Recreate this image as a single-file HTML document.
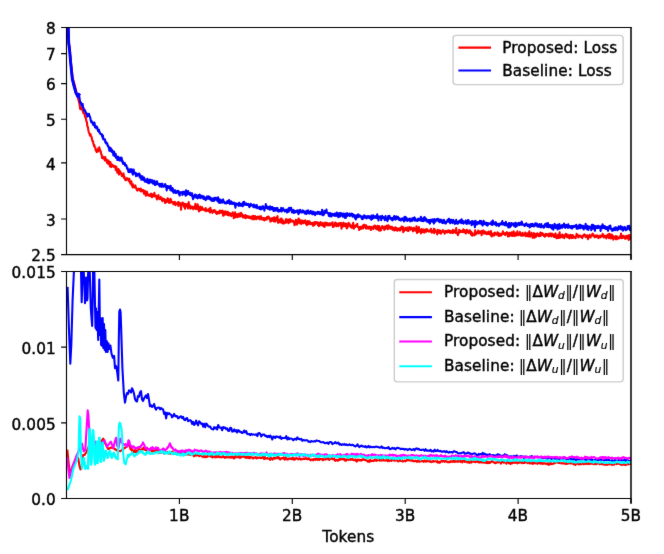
<!DOCTYPE html>
<html><head><meta charset="utf-8"><title>Loss and update-ratio curves</title>
<style>html,body{margin:0;padding:0;background:#fff}body{width:664px;height:554px;overflow:hidden}svg{display:block}</style></head><body>
<svg width="664" height="554" viewBox="0 0 664 554">
<defs><clipPath id="ct"><rect x="66.50" y="27.50" width="564.50" height="227.10"/></clipPath><clipPath id="cb"><rect x="66.50" y="271.50" width="564.50" height="227.00"/></clipPath></defs>
<filter id="sf" x="0" y="0" width="664" height="554" filterUnits="userSpaceOnUse" color-interpolation-filters="sRGB"><feConvolveMatrix order="3" kernelMatrix="1 4 1 4 60 4 1 4 1" edgeMode="duplicate"/></filter>
<g filter="url(#sf)">
<rect width="664" height="554" fill="#fff"/>
<style>text{font-family:'DejaVu Sans',sans-serif;font-size:15.278px;fill:#000;letter-spacing:0.10px;stroke:#000;stroke-width:0.40px} .o{font-style:oblique} .s{font-size:10.694px;stroke-width:0.2px} .n{stroke:none}</style>
<g clip-path="url(#ct)" fill="none" stroke-width="2.083" stroke-linejoin="round" stroke-linecap="square">
<polyline stroke="#ff0000" points="68,5 68.4,27.7 69,43.1 69.9,50.3 70.8,61.1 71.8,70.2 72.8,78.5 74.3,83.5 76.2,91 77.8,97 79.6,104.5 80,108.1 80.3,109.2 80.7,109.1 81,107.7 81.3,107.8 81.7,108.1 82,109.6 82.3,109.7 82.7,111.1 83,109.6 83.3,113.1 83.7,112.3 84,113.5 84.3,113.5 84.7,114.5 85,116.3 85.3,117.6 85.7,117.8 86,119 86.3,121.1 86.7,121.5 87,122.7 87.3,126.1 87.7,126.9 88,127.4 88.3,129.9 88.7,131.8 89,132.7 89.3,133 89.7,134.6 90,135.6 90.3,134.7 90.7,134.4 91,135.7 91.3,136.8 91.7,137.1 92,139.1 92.3,140.8 92.7,140.8 93,141.2 93.3,143.3 93.7,144.3 94,146.2 94.3,144.9 94.7,146.6 95,147.5 95.3,147.6 95.7,150.3 96,150.9 96.3,149.8 96.7,152.2 97,151.8 97.3,151.6 97.7,151.3 98,151.4 98.3,148.4 98.7,150 99,149.6 99.3,147.2 99.7,150 100,149.9 100.3,151.6 100.7,151 101,152.9 101.3,154.7 101.7,154.8 102,157.9 102.3,157.5 102.7,158.1 103,156.8 103.3,158.5 103.7,158 104,157.2 104.3,158.4 104.7,159.6 105,160.6 105.3,157.1 105.7,160.4 106,160.4 106.3,160.2 106.7,159.6 107,162.8 107.3,160.2 107.7,162.6 108,163.8 108.4,160.5 108.7,162.3 109,161.4 109.4,163.5 109.7,165.4 110,166.4 110.4,162 110.7,163.8 111,165.7 111.4,167.1 111.7,165.9 112,164.6 112.4,166.1 112.7,165.9 113,165.8 113.4,165.3 113.7,166.8 114,166.9 114.4,166.7 114.7,167 115,166.1 115.4,167.4 115.7,169.8 116,168.2 116.4,166.8 116.7,170.9 117,170.3 117.4,172.8 117.7,170.5 118,170.1 118.4,169 118.7,172.7 119,174.5 119.4,170.4 119.7,171 120,173 120.4,171.7 120.7,173 121,173.3 121.4,174.4 121.7,175.9 122,174.8 122.4,176.2 122.7,174.7 123,176.1 123.4,173.3 123.7,174.6 124,177.9 124.4,176.6 124.7,178.4 125,178.8 125.4,180.1 125.7,179.7 126,180.1 126.4,178.8 126.7,178.2 127,178.4 127.4,179.1 127.7,178.5 128,179.5 128.4,180.2 128.7,180.8 129,180.4 129.4,178.8 129.7,181.8 130,182.5 130.4,183.8 130.7,183.1 131,181.5 131.4,181.4 131.7,185.3 132,184.2 132.4,186.3 132.7,187.5 133,184.3 133.4,186.4 133.7,186.8 134,187.3 134.4,187.4 134.7,187 135,187.2 135.4,185.4 135.7,187.6 136,187.5 136.4,189.1 136.7,188.8 137,190.4 137.4,190.6 137.7,189.8 138,189.6 138.4,189.3 138.7,188.7 139,189.2 139.4,189 139.7,190.4 140,190 140.4,190.9 140.7,188.5 141,191.5 141.4,189.4 141.7,189.6 142,190.4 142.4,190 142.7,191.4 143,190.5 143.4,190.1 143.7,190.7 144,193.8 144.4,192.4 144.7,191.1 145,193 145.4,191.2 145.7,195.8 146,191.7 146.4,194.3 146.7,194.4 147,191.9 147.4,194.2 147.7,195.3 148,194.8 148.4,194.6 148.7,195.7 149,194.9 149.4,195.3 149.7,194.9 150,195.9 150.4,194 150.7,196.2 151,194.5 151.4,193.7 151.7,195.6 152,197.3 152.4,196.4 152.7,194.6 153,196.2 153.4,194.8 153.7,195.3 154,195.7 154.4,192.8 154.7,196.4 155,195.3 155.4,196.1 155.7,195.5 156,195.6 156.4,196.3 156.7,198.5 157,199.5 157.4,197.2 157.7,198.6 158,197 158.4,195.1 158.7,198 159,198.6 159.4,197.6 159.7,198.7 160,199.2 160.4,197.5 160.7,196.9 161,198.6 161.4,198.8 161.7,198.6 162,200.3 162.4,201.2 162.7,198.4 163.1,200 163.4,200.4 163.7,200.2 164.1,200.7 164.4,199.1 164.7,201 165.1,203.1 165.4,201.9 165.7,200.2 166.1,201.6 166.4,202.1 166.7,200.6 167.1,199.2 167.4,201.8 167.7,198.2 168.1,200.6 168.4,200.2 168.7,199.2 169.1,202.9 169.4,202.3 169.7,200.5 170.1,202.7 170.4,201 170.7,198.9 171.1,200.4 171.4,201.7 171.7,202.3 172.1,201.8 172.4,201.9 172.7,202.7 173.1,202.1 173.4,204.3 173.7,203.2 174.1,203.6 174.4,203.9 174.7,201.8 175.1,202.2 175.4,205.2 175.7,203.9 176.1,203.3 176.4,204.2 176.7,203.2 177.1,204.2 177.4,203 177.7,204.2 178.1,202 178.4,205.9 178.7,203.8 179.1,202.4 179.4,204.2 179.7,204 180.1,204.7 180.4,203.2 180.7,205.4 181.1,209.8 181.4,203.6 181.7,205.6 182.1,204.7 182.4,205.2 182.7,202.5 183.1,203.3 183.4,205.3 183.7,204.7 184.1,206.9 184.4,203.9 184.7,205.2 185.1,208.8 185.4,204.2 185.7,204.1 186.1,205.3 186.4,205.3 186.7,206.4 187.1,205.3 187.4,204 187.7,205.2 188.1,208.5 188.4,207.1 188.7,202.1 189.1,205.7 189.4,204.8 189.7,206.8 190.1,205.8 190.4,208.7 190.7,207.5 191.1,207.6 191.4,206.7 191.7,206.5 192.1,207 192.4,208.4 192.7,207.7 193.1,206.9 193.4,209.3 193.7,208 194.1,207.7 194.4,206.6 194.7,206.8 195.1,206.7 195.4,203.9 195.7,208.9 196.1,208.3 196.4,207.3 196.7,208.9 197.1,208.2 197.4,208.1 197.7,204.4 198.1,207.6 198.4,208.9 198.7,210.7 199.1,211.3 199.4,211 199.7,207.7 200.1,206.5 200.4,209.8 200.7,209.1 201.1,210.1 201.4,208.8 201.7,209.2 202.1,207.1 202.4,209.5 202.7,208.5 203.1,209.5 203.4,209.8 203.7,209.4 204.1,210.1 204.4,209.8 204.7,210.5 205.1,210 205.4,208.4 205.7,208.2 206.1,211.1 206.4,209.3 206.7,211 207.1,210.7 207.4,209.8 207.7,209.7 208.1,210.8 208.4,210.9 208.7,211.2 209.1,208.9 209.4,209.7 209.7,210.3 210.1,212.5 210.4,207.9 210.7,211.3 211.1,210.2 211.4,211.4 211.7,210.3 212.1,211.3 212.4,212.9 212.7,211.5 213.1,211.6 213.4,211.6 213.7,210.2 214.1,211.7 214.4,210.8 214.7,210.2 215.1,211.4 215.4,211.5 215.7,212.9 216.1,212.1 216.4,211.6 216.7,213.9 217.1,213.3 217.4,213.6 217.8,212.9 218.1,212 218.4,211.7 218.8,211.9 219.1,213.4 219.4,212.4 219.8,210.6 220.1,212.4 220.4,210.8 220.8,212.8 221.1,211.1 221.4,211 221.8,212.6 222.1,212.3 222.4,210.6 222.8,213.7 223.1,215.7 223.4,211.5 223.8,215.4 224.1,212.4 224.4,212.5 224.8,212.7 225.1,211.2 225.4,214.5 225.8,213.7 226.1,212.3 226.4,213.1 226.8,211.8 227.1,213.3 227.4,214.9 227.8,211.8 228.1,213.4 228.4,214.1 228.8,215.3 229.1,215.6 229.4,213.5 229.8,213.1 230.1,214.4 230.4,213.4 230.8,213.5 231.1,215.2 231.4,216.1 231.8,214.5 232.1,214.1 232.4,215.2 232.8,212.4 233.1,214.9 233.4,213.9 233.8,218.3 234.1,216.5 234.4,215.8 234.8,215.4 235.1,212.4 235.4,216.2 235.8,217.3 236.1,214.6 236.4,216.5 236.8,216.7 237.1,214 237.4,216.8 237.8,217.1 238.1,215.6 238.4,215.2 238.8,216.3 239.1,213.5 239.4,215.5 239.8,216.6 240.1,213.8 240.4,216.4 240.8,214.7 241.1,212.7 241.4,215.2 241.8,214.4 242.1,216.2 242.4,214.6 242.8,217.4 243.1,215.3 243.4,216.7 243.8,215.5 244.1,215.8 244.4,217.7 244.8,216.6 245.1,216 245.4,215.1 245.8,218.1 246.1,217.6 246.4,216.4 246.8,217.3 247.1,215.9 247.4,216.1 247.8,216.4 248.1,217.7 248.4,217.5 248.8,216.2 249.1,217.9 249.4,217.9 249.8,217.2 250.1,218.3 250.4,216.8 250.8,217.2 251.1,218.1 251.4,217.6 251.8,218.7 252.1,216.2 252.4,219.3 252.8,216.5 253.1,217.3 253.4,215.8 253.8,218.4 254.1,219.3 254.4,219.2 254.8,218.9 255.1,216 255.4,217 255.8,217.5 256.1,216.9 256.4,219.3 256.8,217.9 257.1,217.5 257.4,218.1 257.8,216.5 258.1,216.7 258.4,217 258.8,218.8 259.1,218.7 259.4,218.9 259.8,219.4 260.1,216.3 260.4,217.2 260.8,218.1 261.1,216.3 261.4,217.4 261.8,219.3 262.1,219.4 262.4,219.4 262.8,218.2 263.1,218 263.4,219.7 263.8,218.1 264.1,219.1 264.4,220.4 264.8,218.4 265.1,218.1 265.4,218.9 265.8,219.6 266.1,219.4 266.4,219.1 266.8,219.5 267.1,216.7 267.4,217.4 267.8,218.4 268.1,217 268.4,216.5 268.8,216.9 269.1,217.6 269.4,218.9 269.8,218.1 270.1,219.7 270.4,221.6 270.8,219.4 271.1,221.2 271.4,220 271.8,218.3 272.1,219.3 272.4,218.4 272.8,220.5 273.1,218.1 273.5,221.1 273.8,220.3 274.1,217.2 274.5,220.7 274.8,221.8 275.1,219.1 275.5,221.3 275.8,217.9 276.1,220.1 276.5,217.5 276.8,219.8 277.1,217.1 277.5,216.2 277.8,220.1 278.1,222.8 278.5,219.8 278.8,221.8 279.1,221 279.5,220.4 279.8,221.4 280.1,222.4 280.5,218.8 280.8,220.9 281.1,220.7 281.5,218.6 281.8,222.4 282.1,223 282.5,219.9 282.8,223.5 283.1,221.8 283.5,221.6 283.8,223.5 284.1,221.8 284.5,221.8 284.8,223.1 285.1,222.8 285.5,222.3 285.8,219.4 286.1,219.2 286.5,222.4 286.8,219.9 287.1,221.1 287.5,219.7 287.8,220.8 288.1,219.6 288.5,223.2 288.8,220.1 289.1,221.1 289.5,220.9 289.8,222.3 290.1,219 290.5,220.6 290.8,220.5 291.1,221.5 291.5,221.5 291.8,220.4 292.1,221.2 292.5,220.6 292.8,221.8 293.1,221.4 293.5,221 293.8,222 294.1,222.6 294.5,225.1 294.8,222 295.1,222.9 295.5,224.2 295.8,219.8 296.1,220 296.5,220.5 296.8,221.6 297.1,224.6 297.5,222.1 297.8,222.9 298.1,221.2 298.5,218.5 298.8,218.7 299.1,222.8 299.5,222 299.8,220.4 300.1,223.5 300.5,220.4 300.8,223.6 301.1,224 301.5,221.2 301.8,220.7 302.1,223 302.5,220.8 302.8,223.2 303.1,220.8 303.5,223.2 303.8,222.4 304.1,221.7 304.5,221.2 304.8,222.7 305.1,220.3 305.5,222.5 305.8,222.6 306.1,224 306.5,221.7 306.8,225.1 307.1,222.4 307.5,221.1 307.8,223.9 308.1,224.2 308.5,222.1 308.8,221.3 309.1,222.3 309.5,221.4 309.8,221.7 310.1,224.1 310.5,222.9 310.8,222.9 311.1,223.4 311.5,223.1 311.8,224.3 312.1,224.4 312.5,222.9 312.8,223.3 313.1,225.8 313.5,223.3 313.8,222.6 314.1,225.4 314.5,223.3 314.8,222.1 315.1,224.3 315.5,222.2 315.8,222.4 316.1,223.2 316.5,222.7 316.8,222.1 317.1,222.6 317.5,222.8 317.8,225 318.1,222.8 318.5,223 318.8,226.2 319.1,223.2 319.5,225.7 319.8,225.5 320.1,223.7 320.5,222.1 320.8,224.3 321.1,224.5 321.5,224.8 321.8,223.8 322.1,225.2 322.5,225.5 322.8,222.8 323.1,226 323.5,224.7 323.8,224 324.1,224.3 324.5,227 324.8,225.9 325.1,222.6 325.5,224.8 325.8,224.4 326.1,224.3 326.5,223.9 326.8,222.7 327.1,225.5 327.5,223.4 327.8,224.1 328.2,223.8 328.5,223.6 328.8,225.4 329.2,225 329.5,223.6 329.8,223.2 330.2,223.6 330.5,225.1 330.8,224 331.2,224.1 331.5,223.4 331.8,223.7 332.2,224.5 332.5,222.4 332.8,226.9 333.2,224.2 333.5,224.5 333.8,226.7 334.2,225.2 334.5,224.8 334.8,223.8 335.2,222.5 335.5,224.5 335.8,225.7 336.2,223.3 336.5,226.1 336.8,223.3 337.2,223.9 337.5,225.6 337.8,225.3 338.2,226.2 338.5,224.6 338.8,224.2 339.2,223.1 339.5,223.8 339.8,223.7 340.2,223.2 340.5,225.4 340.8,224.4 341.2,223.1 341.5,228.6 341.8,224.7 342.2,224 342.5,226.8 342.8,226.4 343.2,223.3 343.5,222.7 343.8,223.2 344.2,225.9 344.5,224.3 344.8,223.9 345.2,225 345.5,226.5 345.8,223.6 346.2,225 346.5,224 346.8,228.4 347.2,228.1 347.5,227 347.8,225.6 348.2,226.4 348.5,222.9 348.8,225.6 349.2,223.6 349.5,223.7 349.8,224.6 350.2,225.3 350.5,226.6 350.8,227.1 351.2,226.9 351.5,225.6 351.8,227.6 352.2,226.5 352.5,227.8 352.8,225.1 353.2,222.7 353.5,225.5 353.8,228.7 354.2,226.8 354.5,226 354.8,227.3 355.2,226.8 355.5,226.7 355.8,225.3 356.2,225.7 356.5,225.5 356.8,224.3 357.2,223.8 357.5,225.5 357.8,227 358.2,227 358.5,227.2 358.8,227.4 359.2,230 359.5,227.1 359.8,227.9 360.2,229 360.5,226.7 360.8,227 361.2,227.9 361.5,228.7 361.8,227 362.2,227.1 362.5,226.9 362.8,225.5 363.2,228.4 363.5,226.8 363.8,224.9 364.2,226.7 364.5,224.8 364.8,225.7 365.2,227 365.5,226 365.8,228.5 366.2,225.4 366.5,227.4 366.8,227.6 367.2,228.5 367.5,227.7 367.8,226.9 368.2,227 368.5,227 368.8,228.6 369.2,226.5 369.5,227.8 369.8,227 370.2,227.4 370.5,227 370.8,230 371.2,226.8 371.5,227.8 371.8,227.8 372.2,228.2 372.5,228.2 372.8,228.3 373.2,229.1 373.5,226.2 373.8,227.8 374.2,226.1 374.5,227.6 374.8,225.6 375.2,225.7 375.5,226.7 375.8,228.6 376.2,227.8 376.5,227.7 376.8,229.3 377.2,226.8 377.5,225.7 377.8,227.8 378.2,227.9 378.5,229.6 378.8,230.5 379.2,226.1 379.5,230.5 379.8,229.3 380.2,228.5 380.5,228 380.8,230.7 381.2,227.9 381.5,227.3 381.8,227.9 382.2,226 382.5,228.2 382.8,227.6 383.2,228.4 383.5,228.6 383.9,227 384.2,229.9 384.5,227.1 384.9,229.3 385.2,226.4 385.5,228.7 385.9,227.3 386.2,228.3 386.5,227.5 386.9,225.6 387.2,227 387.5,228.5 387.9,229.1 388.2,226.3 388.5,225.2 388.9,226.5 389.2,227.2 389.5,226.7 389.9,226.6 390.2,228.6 390.5,228.8 390.9,228.7 391.2,226.9 391.5,228.4 391.9,228.3 392.2,226.9 392.5,229.6 392.9,228.6 393.2,227.9 393.5,230.2 393.9,229.5 394.2,229.8 394.5,230.3 394.9,229.7 395.2,227.3 395.5,228.3 395.9,230 396.2,227.9 396.5,229 396.9,229.5 397.2,230.7 397.5,230.4 397.9,229.8 398.2,228.4 398.5,229.7 398.9,229.2 399.2,228.5 399.5,230.4 399.9,229.4 400.2,228 400.5,230.4 400.9,228.5 401.2,229.3 401.5,226.6 401.9,228.4 402.2,227.4 402.5,227.7 402.9,226.9 403.2,232.1 403.5,229.5 403.9,230 404.2,230.9 404.5,229.3 404.9,230 405.2,227.8 405.5,229.8 405.9,229.1 406.2,230.3 406.5,230 406.9,228.1 407.2,227.5 407.5,228.6 407.9,230.9 408.2,230.8 408.5,230.9 408.9,228 409.2,227.1 409.5,229.5 409.9,229.6 410.2,229 410.5,229.8 410.9,228.8 411.2,227.4 411.5,227.7 411.9,229 412.2,228.8 412.5,228.6 412.9,231.3 413.2,228.3 413.5,228.9 413.9,227.7 414.2,228.8 414.5,230.1 414.9,230.4 415.2,229.8 415.5,230.6 415.9,230.3 416.2,228 416.5,226.3 416.9,233 417.2,231.1 417.5,230 417.9,228 418.2,228.6 418.5,231.9 418.9,227.1 419.2,230 419.5,231.3 419.9,230.4 420.2,231.2 420.5,230.2 420.9,233.4 421.2,229.4 421.5,229 421.9,231 422.2,232.3 422.5,230.6 422.9,232 423.2,230.2 423.5,229.4 423.9,232.4 424.2,232.5 424.5,232.5 424.9,230.2 425.2,229.6 425.5,229.7 425.9,230.8 426.2,231.7 426.5,231.4 426.9,229 427.2,230.9 427.5,230.6 427.9,230.7 428.2,230.6 428.5,230.5 428.9,231.6 429.2,231.1 429.5,231.3 429.9,230.2 430.2,231.5 430.5,230.9 430.9,228.7 431.2,231.9 431.5,231.2 431.9,232.7 432.2,231.2 432.5,231.1 432.9,231.2 433.2,230.8 433.5,230.3 433.9,228.7 434.2,233.1 434.5,229 434.9,230.4 435.2,231.6 435.5,231.2 435.9,231.4 436.2,231.7 436.5,232.4 436.9,231.3 437.2,234.4 437.5,229.7 437.9,231.2 438.2,230.6 438.6,230.4 438.9,231.5 439.2,232.9 439.6,230.3 439.9,230.3 440.2,232.1 440.6,231.9 440.9,233.7 441.2,232.7 441.6,231.8 441.9,231.1 442.2,231.9 442.6,231.5 442.9,230.1 443.2,231.8 443.6,231.6 443.9,231.5 444.2,231.2 444.6,233.7 444.9,232.5 445.2,232.9 445.6,231.2 445.9,230.8 446.2,231.6 446.6,232.1 446.9,231.2 447.2,231.2 447.6,232.4 447.9,231.7 448.2,230.3 448.6,231.1 448.9,231 449.2,232.1 449.6,230.6 449.9,231.9 450.2,233 450.6,232.2 450.9,231.1 451.2,231.5 451.6,232.3 451.9,232.6 452.2,232.8 452.6,231.4 452.9,229.8 453.2,232.9 453.6,231.6 453.9,231.9 454.2,232 454.6,230.5 454.9,231.4 455.2,232 455.6,232.9 455.9,231.7 456.2,228 456.6,231.6 456.9,232.6 457.2,233.8 457.6,233.2 457.9,235.2 458.2,233.6 458.6,233.3 458.9,232.7 459.2,229.8 459.6,232.4 459.9,232 460.2,230.6 460.6,231.9 460.9,231.9 461.2,231 461.6,231.6 461.9,231.4 462.2,232 462.6,231.1 462.9,232.2 463.2,229.3 463.6,231.3 463.9,229.7 464.2,231.2 464.6,232.5 464.9,231.9 465.2,231.7 465.6,231.8 465.9,233.5 466.2,230.1 466.6,232.5 466.9,229.7 467.2,231.1 467.6,232 467.9,231 468.2,232.3 468.6,233 468.9,230.8 469.2,232.2 469.6,232 469.9,230.2 470.2,232.4 470.6,231.7 470.9,234.3 471.2,231.7 471.6,235 471.9,232.5 472.2,235.7 472.6,234.1 472.9,234 473.2,234.4 473.6,234.4 473.9,234.9 474.2,235.3 474.6,233 474.9,232.1 475.2,230.4 475.6,233.1 475.9,234.4 476.2,233.7 476.6,233.3 476.9,232.6 477.2,232.2 477.6,232.5 477.9,233.2 478.2,230.5 478.6,233.5 478.9,231.1 479.2,232.9 479.6,232.5 479.9,232.9 480.2,232 480.6,231.7 480.9,232.4 481.2,231.1 481.6,235.1 481.9,231.7 482.2,231.6 482.6,232.1 482.9,231.9 483.2,230.4 483.6,233 483.9,233.7 484.2,231.3 484.6,233 484.9,231.5 485.2,232.9 485.6,233.5 485.9,233.7 486.2,233.7 486.6,232.3 486.9,234.1 487.2,232.5 487.6,233.4 487.9,233.9 488.2,232.8 488.6,231.6 488.9,233.9 489.2,231.9 489.6,232.3 489.9,232.2 490.2,234.7 490.6,233.6 490.9,231.1 491.2,234.8 491.6,236.5 491.9,236.3 492.2,233.5 492.6,234.3 492.9,234.8 493.2,235.3 493.6,234.4 493.9,233.2 494.3,235.4 494.6,235.1 494.9,232.5 495.3,233.5 495.6,234.1 495.9,233.7 496.3,234.3 496.6,234.7 496.9,234.5 497.3,233.8 497.6,232.3 497.9,234.6 498.3,235.4 498.6,235.9 498.9,233.4 499.3,233.5 499.6,235.4 499.9,235.6 500.3,234.6 500.6,235.4 500.9,233.8 501.3,235.5 501.6,233.7 501.9,234.3 502.3,234.1 502.6,233.4 502.9,231.2 503.3,232.6 503.6,233.9 503.9,233.5 504.3,233.3 504.6,234.5 504.9,234.9 505.3,235.1 505.6,233.1 505.9,234 506.3,233.5 506.6,232.8 506.9,232.1 507.3,233.7 507.6,232.7 507.9,236.4 508.3,233.7 508.6,233.6 508.9,233.5 509.3,236.3 509.6,232.9 509.9,233.9 510.3,233.2 510.6,234 510.9,234.1 511.3,235.4 511.6,232.3 511.9,234 512.3,236 512.6,233.6 512.9,234.1 513.3,233.3 513.6,231.3 513.9,234.4 514.3,236.1 514.6,234.3 514.9,232.8 515.3,235.3 515.6,234.9 515.9,235.7 516.3,235.1 516.6,233.3 516.9,234 517.3,231.3 517.6,235 517.9,234.1 518.3,235.3 518.6,235.3 518.9,233.7 519.3,234 519.6,233.2 519.9,231.9 520.3,234.4 520.6,234.9 520.9,233.6 521.3,235.8 521.6,235.1 521.9,235.5 522.3,233.9 522.6,232.7 522.9,235.7 523.3,235.6 523.6,234.8 523.9,234.4 524.3,234.6 524.6,234.7 524.9,234.3 525.3,232.6 525.6,236.2 525.9,233.6 526.3,235.2 526.6,235.2 526.9,235.7 527.3,233.2 527.6,236.3 527.9,235.4 528.3,235.6 528.6,236.3 528.9,234 529.3,231.4 529.6,235.6 529.9,236.7 530.3,236.3 530.6,234.1 530.9,234.6 531.3,235.1 531.6,232.8 531.9,234.6 532.3,234.9 532.6,237.8 532.9,235.1 533.3,237.5 533.6,235.4 533.9,233.1 534.3,237.7 534.6,233.9 534.9,235.9 535.3,237.3 535.6,234.8 535.9,234 536.3,236.6 536.6,235.3 536.9,233.5 537.3,233.4 537.6,234 537.9,235.5 538.3,233.9 538.6,235.1 538.9,236.3 539.3,235.9 539.6,236.1 539.9,235.9 540.3,232.6 540.6,236 540.9,235 541.3,234.6 541.6,233.5 541.9,232.9 542.3,233.5 542.6,234.9 542.9,233.6 543.3,234.1 543.6,234.4 543.9,236 544.3,234.8 544.6,235 544.9,236.7 545.3,234.7 545.6,235.7 545.9,233.7 546.3,235.3 546.6,235.1 546.9,235.3 547.3,234.7 547.6,234.1 547.9,234.9 548.3,234.7 548.6,236.4 549,236.1 549.3,233.6 549.6,235.9 550,234.6 550.3,235.7 550.6,234.6 551,233.4 551.3,236.5 551.6,236.1 552,234.4 552.3,233.8 552.6,235.4 553,234.5 553.3,235.2 553.6,236.2 554,237 554.3,234.8 554.6,237 555,236.8 555.3,234.9 555.6,233.4 556,236.4 556.3,236.1 556.6,238.3 557,237.3 557.3,236.7 557.6,238 558,234.8 558.3,236.3 558.6,235.7 559,237.9 559.3,236.5 559.6,232.2 560,237.7 560.3,235.1 560.6,237.2 561,235.6 561.3,236.3 561.6,236.5 562,235.9 562.3,234.5 562.6,237.4 563,236.4 563.3,236 563.6,236.9 564,235.3 564.3,238.1 564.6,235.9 565,235.8 565.3,235.7 565.6,234.2 566,233.8 566.3,235.5 566.6,235.7 567,237.1 567.3,236.3 567.6,234.7 568,236.9 568.3,237.4 568.6,237.7 569,237 569.3,235.3 569.6,238.4 570,236.2 570.3,237.8 570.6,234.9 571,237.4 571.3,235.2 571.6,237.3 572,238.1 572.3,237.6 572.6,235 573,235.5 573.3,235.8 573.6,237.8 574,237.4 574.3,237.1 574.6,237.2 575,237.3 575.3,237.2 575.6,238.2 576,236 576.3,236.2 576.6,233.7 577,234.4 577.3,235.2 577.6,234.7 578,236.5 578.3,237.5 578.6,235.8 579,235.8 579.3,235.8 579.6,236.5 580,235.5 580.3,236.6 580.6,236.4 581,236.5 581.3,237.1 581.6,236.3 582,236.4 582.3,238.2 582.6,235.8 583,236.6 583.3,235.5 583.6,234.8 584,234.8 584.3,234.4 584.6,235.4 585,234.8 585.3,235 585.6,237.1 586,235.5 586.3,237 586.6,236.1 587,236.8 587.3,235.2 587.6,236.1 588,239.2 588.3,237.1 588.6,237.3 589,236.4 589.3,237.3 589.6,234.9 590,235.4 590.3,237 590.6,237.5 591,235.8 591.3,235.8 591.6,235.3 592,235.2 592.3,233.9 592.6,233.7 593,235.7 593.3,234.2 593.6,235.5 594,236.1 594.3,235.7 594.6,237.3 595,236.4 595.3,236.8 595.6,235.6 596,235.7 596.3,236.9 596.6,236.5 597,235.3 597.3,236.3 597.6,236.2 598,236.3 598.3,238.2 598.6,236.1 599,237.3 599.3,237.4 599.6,236.7 600,235.5 600.3,237.5 600.6,237 601,236.7 601.3,236.6 601.6,236.5 602,235.2 602.3,236.5 602.6,233.9 603,236.1 603.3,234.6 603.7,236.1 604,237.6 604.3,236.4 604.7,236 605,237 605.3,236 605.7,235.8 606,236 606.3,238.4 606.7,237.4 607,237.2 607.3,235 607.7,237 608,234.5 608.3,236.5 608.7,234.5 609,238.1 609.3,233.8 609.7,237.6 610,237.4 610.3,234.6 610.7,236.5 611,238.5 611.3,238.1 611.7,234.6 612,236 612.3,235.3 612.7,235.7 613,236.4 613.3,239.6 613.7,237.7 614,237.3 614.3,237.1 614.7,238.2 615,238.2 615.3,236.2 615.7,239.2 616,236.1 616.3,237 616.7,237.8 617,239.2 617.3,236.5 617.7,237.2 618,238.4 618.3,237.8 618.7,238.5 619,238.4 619.3,237.3 619.7,237.4 620,237.4 620.3,235.9 620.7,237.8 621,233.6 621.3,235.2 621.7,238.3 622,237.2 622.3,236 622.7,237.1 623,237.8 623.3,235.7 623.7,237.2 624,236.2 624.3,236.5 624.7,236.9 625,238.6 625.3,236.2 625.7,237.2 626,238.6 626.3,236.3 626.7,235.8 627,238.3 627.3,237.5 627.7,237.1 628,237.1 628.3,235.5 628.7,240 629,235.3 629.3,236.1 629.7,235.1 630,236.5 630.3,238.9 630.7,237.1 631,237.9"/>
<polyline stroke="#0000ff" points="67.9,5 68.2,27.7 68.7,43.1 69.6,50.3 70.5,61.1 71.4,70.2 72.3,79.2 74.1,86.4 75.9,92.8 77.7,96.4 79,94.6 80,101.3 80.3,102.7 80.7,103.3 81,102.5 81.3,103.7 81.7,105.7 82,105.1 82.3,105.1 82.7,104 83,107.3 83.3,107.7 83.7,108.7 84,110.5 84.3,109.5 84.7,110.4 85,110.3 85.3,111.4 85.7,112 86,113.2 86.3,113.7 86.7,113.3 87,114.3 87.3,116.6 87.7,114.3 88,115.4 88.3,115.8 88.7,114.6 89,113.8 89.3,115.7 89.7,116 90,116.9 90.3,118 90.7,120.3 91,120.7 91.3,122.3 91.7,121.2 92,121.9 92.3,122.3 92.7,123.6 93,123.1 93.3,125.1 93.7,125 94,124 94.3,122.4 94.7,123.8 95,127.3 95.3,126.2 95.7,126.9 96,126.8 96.3,128.2 96.7,126.4 97,126.8 97.3,127.6 97.7,129.7 98,130.9 98.3,131.1 98.7,130.8 99,129.8 99.3,132.5 99.7,132.1 100,133.2 100.3,133.9 100.7,134.1 101,134 101.3,134.4 101.7,134 102,136.1 102.3,136.1 102.7,138 103,135.5 103.3,139.5 103.7,138.8 104,139.4 104.3,139.3 104.7,139.7 105,139.3 105.3,142.4 105.7,141.5 106,143 106.3,143.6 106.7,142.6 107,143.5 107.3,143.8 107.7,145.9 108,145.5 108.4,146.2 108.7,147.7 109,147.6 109.4,150.8 109.7,147.6 110,150.6 110.4,151 110.7,148.1 111,151 111.4,150.8 111.7,151.9 112,149.7 112.4,152.1 112.7,151.2 113,152.6 113.4,155.4 113.7,153.9 114,151.5 114.4,152.7 114.7,153.3 115,156.3 115.4,154.5 115.7,153.9 116,157.8 116.4,157.2 116.7,157.8 117,156.7 117.4,160 117.7,158.4 118,156.5 118.4,158.1 118.7,159.1 119,159.7 119.4,160.5 119.7,158 120,157.6 120.4,160.5 120.7,157.7 121,157.5 121.4,158.8 121.7,157.9 122,161 122.4,162.2 122.7,161 123,163.8 123.4,162.7 123.7,164 124,163 124.4,163.3 124.7,162.8 125,165.5 125.4,165.4 125.7,165.7 126,164.9 126.4,165.4 126.7,166.6 127,168.6 127.4,169 127.7,168.2 128,169.8 128.4,171.9 128.7,169.8 129,172.2 129.4,170.2 129.7,171.5 130,169.4 130.4,172 130.7,169.4 131,171.6 131.4,171.1 131.7,169.2 132,170.2 132.4,173.7 132.7,173.2 133,174.6 133.4,173.5 133.7,169.6 134,173.7 134.4,172.5 134.7,172.6 135,172.8 135.4,172.7 135.7,172.9 136,176.1 136.4,175.2 136.7,173.7 137,174 137.4,175.8 137.7,175.2 138,175.3 138.4,173.8 138.7,175.1 139,174.5 139.4,173.6 139.7,177.4 140,176 140.4,176.1 140.7,175.6 141,177.9 141.4,179.8 141.7,178 142,178.7 142.4,176.2 142.7,178.3 143,178.6 143.4,180.3 143.7,178.6 144,177.6 144.4,179.1 144.7,178.9 145,181.7 145.4,181 145.7,180.8 146,180.8 146.4,181.9 146.7,180.3 147,179.9 147.4,178.7 147.7,182.7 148,181.9 148.4,182 148.7,181.2 149,183.3 149.4,179.8 149.7,182.6 150,179.9 150.4,180.5 150.7,179.7 151,181.6 151.4,181.4 151.7,182.5 152,181.3 152.4,180.3 152.7,182.8 153,183.8 153.4,183.2 153.7,182.3 154,183.2 154.4,180.7 154.7,182.8 155,185 155.4,184.2 155.7,182.6 156,184.6 156.4,183.1 156.7,184 157,181.2 157.4,182.5 157.7,183.9 158,184.1 158.4,184.6 158.7,184.1 159,184.2 159.4,185.5 159.7,186.5 160,183.9 160.4,185.7 160.7,185.8 161,186.1 161.4,186.9 161.7,183.8 162,186.3 162.4,183.7 162.7,185.4 163.1,186.1 163.4,186.7 163.7,186.5 164.1,186.5 164.4,186.5 164.7,186.3 165.1,184 165.4,184.4 165.7,185.7 166.1,187.1 166.4,188 166.7,190.5 167.1,187.1 167.4,186 167.7,187.2 168.1,188 168.4,187.6 168.7,186.3 169.1,187.9 169.4,188.2 169.7,186.5 170.1,186.9 170.4,190.2 170.7,185.9 171.1,189.1 171.4,188.6 171.7,190.7 172.1,189.8 172.4,188.1 172.7,191.1 173.1,189.1 173.4,192.7 173.7,192.6 174.1,190.6 174.4,191.9 174.7,191.4 175.1,190.2 175.4,192.9 175.7,192.2 176.1,192.7 176.4,192.8 176.7,193 177.1,192.3 177.4,190.7 177.7,191 178.1,191.5 178.4,191.1 178.7,191.4 179.1,194.6 179.4,193.3 179.7,195.5 180.1,192.2 180.4,193.2 180.7,192.5 181.1,192.3 181.4,192.3 181.7,192.4 182.1,192.1 182.4,195 182.7,193.6 183.1,191.7 183.4,191.8 183.7,193.4 184.1,193.3 184.4,192 184.7,194.3 185.1,191.5 185.4,192.8 185.7,195.7 186.1,190.2 186.4,193.3 186.7,194.9 187.1,193.5 187.4,192.7 187.7,192.6 188.1,191.1 188.4,192.2 188.7,194 189.1,193.2 189.4,194 189.7,194.1 190.1,195 190.4,192.8 190.7,194.9 191.1,195.2 191.4,195.5 191.7,194.9 192.1,193.3 192.4,197 192.7,197.3 193.1,199.2 193.4,197 193.7,197.9 194.1,196.5 194.4,195.2 194.7,196.4 195.1,194.5 195.4,196.6 195.7,196.3 196.1,195.1 196.4,197.8 196.7,197.5 197.1,196.5 197.4,197.1 197.7,198.4 198.1,196.4 198.4,195 198.7,195.5 199.1,197.5 199.4,196.8 199.7,194.6 200.1,198 200.4,196.6 200.7,198.1 201.1,197.5 201.4,195.7 201.7,196.5 202.1,195.8 202.4,196 202.7,196.8 203.1,197.9 203.4,199 203.7,196.3 204.1,198.3 204.4,197.6 204.7,197.4 205.1,199.3 205.4,197.8 205.7,200.1 206.1,198.1 206.4,197.3 206.7,199.2 207.1,196.3 207.4,196.7 207.7,198 208.1,198.4 208.4,198.3 208.7,196.4 209.1,197.1 209.4,199.2 209.7,199.1 210.1,197.2 210.4,198.9 210.7,199 211.1,200.2 211.4,198.3 211.7,200.8 212.1,198.7 212.4,200.9 212.7,200.5 213.1,198.5 213.4,199.5 213.7,200.2 214.1,200.9 214.4,197.8 214.7,198.6 215.1,199.8 215.4,199.5 215.7,197.8 216.1,198 216.4,199.7 216.7,198.2 217.1,200 217.4,201.1 217.8,200.3 218.1,197.2 218.4,202 218.8,202.1 219.1,202.7 219.4,202.2 219.8,199.4 220.1,203 220.4,201.5 220.8,202 221.1,200.4 221.4,200.3 221.8,200.3 222.1,202.7 222.4,201.2 222.8,200.7 223.1,199.4 223.4,201.7 223.8,201.3 224.1,201.7 224.4,203.1 224.8,203.1 225.1,202.5 225.4,203 225.8,202.9 226.1,203.5 226.4,203.4 226.8,202.5 227.1,201.2 227.4,203 227.8,203 228.1,200.7 228.4,202.6 228.8,202 229.1,200.1 229.4,202.7 229.8,203.9 230.1,201.7 230.4,201.6 230.8,203.7 231.1,201.4 231.4,201.8 231.8,202.7 232.1,203.9 232.4,203.9 232.8,202.6 233.1,202.9 233.4,203.6 233.8,203.2 234.1,202.8 234.4,202.7 234.8,205 235.1,204 235.4,207.7 235.8,205 236.1,203.4 236.4,204.3 236.8,204.7 237.1,204.7 237.4,204.6 237.8,204.5 238.1,203.6 238.4,204.3 238.8,205.9 239.1,202.7 239.4,202.9 239.8,204.5 240.1,205.4 240.4,205.1 240.8,205.7 241.1,204.1 241.4,203.8 241.8,204.8 242.1,204.9 242.4,206.2 242.8,206.2 243.1,202.3 243.4,205.4 243.8,203.5 244.1,201.7 244.4,204.8 244.8,204.3 245.1,204.4 245.4,203.5 245.8,204 246.1,205 246.4,203.4 246.8,204.8 247.1,204.9 247.4,204.4 247.8,205 248.1,204.8 248.4,203.9 248.8,204.4 249.1,206.1 249.4,207.2 249.8,206.3 250.1,205.4 250.4,206.1 250.8,203.7 251.1,204.5 251.4,205.1 251.8,205.4 252.1,205.2 252.4,205.6 252.8,205 253.1,206.1 253.4,207.2 253.8,204.5 254.1,204.8 254.4,205.4 254.8,207.3 255.1,206.2 255.4,207.4 255.8,207.3 256.1,205.4 256.4,206.2 256.8,205.1 257.1,208.2 257.4,207.9 257.8,207.7 258.1,207.8 258.4,207.5 258.8,207.3 259.1,207.5 259.4,208.9 259.8,206.8 260.1,206.7 260.4,208 260.8,209.4 261.1,208.2 261.4,207.7 261.8,209 262.1,208.4 262.4,206.2 262.8,207.4 263.1,206.2 263.4,208.4 263.8,208 264.1,208.9 264.4,210.7 264.8,207.3 265.1,207.8 265.4,207.1 265.8,204.1 266.1,206.6 266.4,206.8 266.8,208.2 267.1,207 267.4,206.5 267.8,208.8 268.1,208 268.4,207.1 268.8,207.3 269.1,207.8 269.4,209 269.8,209.6 270.1,206.3 270.4,209.2 270.8,208 271.1,208.4 271.4,209.2 271.8,207 272.1,209.3 272.4,207 272.8,208.1 273.1,207.8 273.5,210.9 273.8,210.8 274.1,209.7 274.5,209.4 274.8,208.1 275.1,210.7 275.5,210.1 275.8,209.4 276.1,208.2 276.5,208.1 276.8,208.7 277.1,210.6 277.5,208.1 277.8,209.6 278.1,211.4 278.5,210.6 278.8,211.6 279.1,210 279.5,210.1 279.8,211.2 280.1,210.4 280.5,210 280.8,209 281.1,207.9 281.5,211.5 281.8,209.2 282.1,208.8 282.5,210.7 282.8,208.6 283.1,208.1 283.5,209.2 283.8,209.9 284.1,210.4 284.5,210.8 284.8,211.5 285.1,210.2 285.5,210.8 285.8,210.2 286.1,209.6 286.5,210.8 286.8,210.7 287.1,212.5 287.5,210.9 287.8,209.2 288.1,210.6 288.5,209.5 288.8,211.7 289.1,207.8 289.5,209 289.8,208.9 290.1,209.7 290.5,209.4 290.8,207.8 291.1,207.7 291.5,210.4 291.8,212.1 292.1,212.4 292.5,210.4 292.8,211.7 293.1,210.4 293.5,209.8 293.8,212.9 294.1,212.3 294.5,211 294.8,211 295.1,212.6 295.5,211.9 295.8,211.1 296.1,211.8 296.5,211.3 296.8,210.7 297.1,210.4 297.5,212.4 297.8,210.9 298.1,210.4 298.5,214.1 298.8,213.4 299.1,212.4 299.5,211.5 299.8,211.7 300.1,209.8 300.5,211.6 300.8,212.1 301.1,211.6 301.5,212.5 301.8,211.2 302.1,212.4 302.5,210.4 302.8,212.3 303.1,211.6 303.5,210.8 303.8,212 304.1,212.5 304.5,211.8 304.8,213.5 305.1,211.5 305.5,213.3 305.8,213 306.1,211.5 306.5,214 306.8,210.7 307.1,212.9 307.5,212.2 307.8,213 308.1,210.4 308.5,211.2 308.8,212 309.1,213.3 309.5,213.6 309.8,213.5 310.1,212.9 310.5,212 310.8,210.9 311.1,211.7 311.5,212.8 311.8,213.6 312.1,212.1 312.5,214.2 312.8,211.5 313.1,214.2 313.5,212 313.8,213.6 314.1,212.2 314.5,212.3 314.8,212.9 315.1,215.1 315.5,212.5 315.8,213.9 316.1,213.3 316.5,213.6 316.8,213.6 317.1,214 317.5,211.8 317.8,213.1 318.1,213.4 318.5,212.3 318.8,213.4 319.1,211.9 319.5,214.1 319.8,212.4 320.1,212.8 320.5,214 320.8,214.2 321.1,212.1 321.5,212.1 321.8,214.1 322.1,209.7 322.5,215 322.8,215.2 323.1,212.6 323.5,215.3 323.8,214.2 324.1,214.2 324.5,210.8 324.8,212.8 325.1,213 325.5,212.6 325.8,212.5 326.1,212.5 326.5,209.5 326.8,212.7 327.1,212.3 327.5,213.2 327.8,212.8 328.2,213.5 328.5,213.9 328.8,215.8 329.2,213 329.5,216.2 329.8,214.1 330.2,213.6 330.5,213.2 330.8,216.3 331.2,213.7 331.5,216.5 331.8,215.7 332.2,214.3 332.5,213.9 332.8,215.1 333.2,214.6 333.5,215.3 333.8,214.4 334.2,213.9 334.5,215.4 334.8,213.5 335.2,216 335.5,215.2 335.8,213.8 336.2,213.9 336.5,214.5 336.8,212.5 337.2,216.2 337.5,215.7 337.8,213.4 338.2,214.9 338.5,217.3 338.8,216 339.2,214.4 339.5,213 339.8,213.4 340.2,216.5 340.5,215.2 340.8,213.1 341.2,215.4 341.5,214.1 341.8,213.7 342.2,213.9 342.5,214.1 342.8,216.6 343.2,213.5 343.5,214.2 343.8,216.2 344.2,216.5 344.5,213.8 344.8,217.8 345.2,216.9 345.5,213.9 345.8,217.9 346.2,213.9 346.5,216.3 346.8,214 347.2,213.1 347.5,216 347.8,215.1 348.2,214.3 348.5,214.5 348.8,214.2 349.2,214.3 349.5,213.7 349.8,216 350.2,215.6 350.5,215.4 350.8,215 351.2,215.2 351.5,213.6 351.8,214.9 352.2,214 352.5,216.7 352.8,214.1 353.2,214.7 353.5,215.2 353.8,216.1 354.2,215.7 354.5,215.2 354.8,218 355.2,215.6 355.5,216.3 355.8,219.5 356.2,215.5 356.5,217.8 356.8,217.2 357.2,215 357.5,215.7 357.8,217.3 358.2,214.4 358.5,215.8 358.8,217 359.2,215.7 359.5,216.4 359.8,215.4 360.2,215.6 360.5,215.8 360.8,216.2 361.2,217.3 361.5,216.7 361.8,218.9 362.2,217.1 362.5,216.8 362.8,219.2 363.2,216.5 363.5,215.7 363.8,216.9 364.2,215.2 364.5,216.9 364.8,217.8 365.2,217.1 365.5,216.2 365.8,216.8 366.2,217.6 366.5,218.4 366.8,216.3 367.2,216.1 367.5,217.8 367.8,216.8 368.2,217 368.5,217.4 368.8,216 369.2,216.8 369.5,218.2 369.8,216.7 370.2,216.6 370.5,217.2 370.8,217.2 371.2,219.6 371.5,215.6 371.8,216.7 372.2,219 372.5,216.8 372.8,217.4 373.2,215.3 373.5,218.1 373.8,217.9 374.2,217.6 374.5,216.2 374.8,216.9 375.2,216.4 375.5,217.7 375.8,216.9 376.2,218 376.5,215.7 376.8,217.1 377.2,214.3 377.5,217.6 377.8,218.7 378.2,217.4 378.5,220.5 378.8,216.5 379.2,217.4 379.5,216.8 379.8,217.5 380.2,217.5 380.5,216.3 380.8,216.7 381.2,220.2 381.5,217.3 381.8,218.5 382.2,215.9 382.5,217.2 382.8,218 383.2,217.2 383.5,217 383.9,217.6 384.2,218.2 384.5,219.5 384.9,220.1 385.2,217 385.5,216 385.9,218.1 386.2,218.3 386.5,219.4 386.9,220 387.2,218.1 387.5,221.2 387.9,218.8 388.2,216.1 388.5,219 388.9,218.1 389.2,218.1 389.5,215.9 389.9,217.6 390.2,218.2 390.5,217.8 390.9,218.8 391.2,219.4 391.5,219.6 391.9,219.4 392.2,217.9 392.5,220.4 392.9,218.8 393.2,219.6 393.5,218.4 393.9,217 394.2,216 394.5,219 394.9,217.9 395.2,218.7 395.5,219.7 395.9,216.7 396.2,216.3 396.5,218.7 396.9,218.9 397.2,218.2 397.5,217.9 397.9,216.7 398.2,218.5 398.5,217.8 398.9,219.4 399.2,220.1 399.5,218.3 399.9,219.4 400.2,219 400.5,219.5 400.9,220.5 401.2,219.4 401.5,219.5 401.9,219.7 402.2,218.3 402.5,218.8 402.9,219.2 403.2,220.2 403.5,220.2 403.9,221.4 404.2,217.4 404.5,218.7 404.9,216.7 405.2,218.2 405.5,217 405.9,220.4 406.2,220 406.5,217.7 406.9,219.2 407.2,219.7 407.5,220.9 407.9,219.9 408.2,219.2 408.5,219 408.9,220 409.2,219.7 409.5,219 409.9,218.5 410.2,221.4 410.5,219.3 410.9,219.7 411.2,220.7 411.5,219.5 411.9,220.9 412.2,218.4 412.5,220.8 412.9,218.4 413.2,218 413.5,218.3 413.9,219.4 414.2,218.3 414.5,217.4 414.9,220.6 415.2,218.2 415.5,219.5 415.9,220.3 416.2,219.6 416.5,220.6 416.9,220.8 417.2,219.7 417.5,220.9 417.9,219.1 418.2,218.7 418.5,220.2 418.9,218.7 419.2,220.1 419.5,219.4 419.9,218.9 420.2,220.3 420.5,220.6 420.9,216.7 421.2,220 421.5,220.6 421.9,221 422.2,219.8 422.5,219 422.9,220.5 423.2,221.2 423.5,217.9 423.9,218.5 424.2,219.5 424.5,217 424.9,219.1 425.2,220.7 425.5,218.4 425.9,219.9 426.2,218.8 426.5,220.5 426.9,220.9 427.2,221.8 427.5,220.4 427.9,221.7 428.2,221 428.5,220.1 428.9,222.5 429.2,220 429.5,220.9 429.9,223.6 430.2,221.7 430.5,219.8 430.9,221.3 431.2,220.5 431.5,221.1 431.9,219.6 432.2,221.7 432.5,219.5 432.9,221.7 433.2,221.6 433.5,222 433.9,223.6 434.2,219 434.5,219.6 434.9,219.8 435.2,220.2 435.5,221.7 435.9,220.1 436.2,219.7 436.5,219.1 436.9,219.7 437.2,220 437.5,220.4 437.9,218.8 438.2,220.5 438.6,221.4 438.9,221.3 439.2,219.6 439.6,222.1 439.9,222.1 440.2,221.5 440.6,219.7 440.9,219.5 441.2,221.6 441.6,220.5 441.9,220.2 442.2,222.9 442.6,222.9 442.9,222.4 443.2,223.1 443.6,222.4 443.9,219.7 444.2,222.4 444.6,221.2 444.9,221.7 445.2,223.3 445.6,222.1 445.9,223.6 446.2,221.9 446.6,221.5 446.9,221.1 447.2,221.7 447.6,219.8 447.9,221.6 448.2,221.4 448.6,220.8 448.9,218.7 449.2,218.7 449.6,222.2 449.9,220.3 450.2,223.3 450.6,220.8 450.9,222.1 451.2,219.7 451.6,220.4 451.9,220.8 452.2,221.7 452.6,223.1 452.9,222.5 453.2,219.8 453.6,221.7 453.9,221.6 454.2,221.2 454.6,222.7 454.9,223.9 455.2,221.3 455.6,223 455.9,223.1 456.2,219.9 456.6,223.3 456.9,223.3 457.2,221.8 457.6,223.7 457.9,222.2 458.2,223.4 458.6,222.9 458.9,221.1 459.2,222.4 459.6,221.9 459.9,221.4 460.2,220.4 460.6,220.8 460.9,220.2 461.2,223.1 461.6,219.4 461.9,222 462.2,221.3 462.6,220.6 462.9,223 463.2,221.2 463.6,223.6 463.9,222 464.2,222.5 464.6,221.8 464.9,222.4 465.2,222.4 465.6,220.5 465.9,221.1 466.2,223.5 466.6,221 466.9,224 467.2,221.5 467.6,221.3 467.9,220 468.2,221.2 468.6,220.3 468.9,221.9 469.2,223.7 469.6,223.2 469.9,222.8 470.2,222.5 470.6,223 470.9,221.9 471.2,221.7 471.6,225.1 471.9,222.7 472.2,221.1 472.6,223 472.9,224.2 473.2,221.9 473.6,222.8 473.9,221.7 474.2,221.4 474.6,224.9 474.9,227.2 475.2,222 475.6,220.9 475.9,224.6 476.2,224.2 476.6,223.5 476.9,224.5 477.2,222.2 477.6,222.8 477.9,223.3 478.2,222.1 478.6,223.2 478.9,222.6 479.2,223.6 479.6,223.4 479.9,220.9 480.2,223.4 480.6,221.4 480.9,222 481.2,221 481.6,224.2 481.9,223.1 482.2,223.3 482.6,225.5 482.9,224.8 483.2,223.4 483.6,220.9 483.9,224 484.2,222.8 484.6,222.6 484.9,224.1 485.2,222.6 485.6,223.4 485.9,224.6 486.2,224.3 486.6,222.8 486.9,225.3 487.2,224.8 487.6,225.6 487.9,223.1 488.2,223.3 488.6,224.2 488.9,223.6 489.2,223.6 489.6,223.6 489.9,223.6 490.2,223.3 490.6,223.2 490.9,224.3 491.2,223.2 491.6,221.6 491.9,223.2 492.2,225 492.6,224.6 492.9,220.6 493.2,222.2 493.6,224.2 493.9,223.4 494.3,223.4 494.6,223.2 494.9,223.5 495.3,222.3 495.6,225 495.9,222.4 496.3,223.5 496.6,225.6 496.9,225.2 497.3,224.1 497.6,224.3 497.9,223.7 498.3,223.8 498.6,224.2 498.9,226.1 499.3,223.9 499.6,224.9 499.9,224.6 500.3,224.3 500.6,223.3 500.9,224.4 501.3,223.8 501.6,223.8 501.9,223.2 502.3,221.1 502.6,224.5 502.9,224.4 503.3,222.9 503.6,223.4 503.9,224.3 504.3,223 504.6,225.1 504.9,225.1 505.3,225.2 505.6,225.3 505.9,221.9 506.3,224.8 506.6,223.7 506.9,225.5 507.3,225.4 507.6,225.1 507.9,224.1 508.3,227.5 508.6,224.1 508.9,223.1 509.3,225.7 509.6,223 509.9,227.1 510.3,226.1 510.6,226.5 510.9,226.1 511.3,225.2 511.6,223 511.9,223.6 512.3,224.7 512.6,223.7 512.9,224.5 513.3,223.5 513.6,223.8 513.9,225.5 514.3,226.2 514.6,225.2 514.9,223.8 515.3,222.7 515.6,226.9 515.9,223 516.3,223.5 516.6,223.8 516.9,225.9 517.3,223.9 517.6,225.4 517.9,224.9 518.3,223 518.6,224.4 518.9,222.8 519.3,224 519.6,225.1 519.9,223.9 520.3,223.1 520.6,223.7 520.9,224 521.3,224.7 521.6,221.5 521.9,221.9 522.3,224.6 522.6,223.9 522.9,224.1 523.3,224.6 523.6,224.5 523.9,224.5 524.3,225.3 524.6,226.1 524.9,225.7 525.3,225.1 525.6,223.7 525.9,225 526.3,223.2 526.6,223.8 526.9,224.8 527.3,224.9 527.6,226.1 527.9,225.8 528.3,225.4 528.6,224.5 528.9,225.1 529.3,225 529.6,227.5 529.9,226 530.3,224.6 530.6,224.2 530.9,226.7 531.3,224.1 531.6,225.5 531.9,225.1 532.3,226 532.6,223.7 532.9,225.3 533.3,225.1 533.6,225.9 533.9,226.5 534.3,224.9 534.6,224.4 534.9,225.8 535.3,223.3 535.6,225.4 535.9,224.1 536.3,223.9 536.6,223.5 536.9,223.5 537.3,226.5 537.6,226.6 537.9,225.7 538.3,226.7 538.6,225.4 538.9,224.8 539.3,224.2 539.6,226.4 539.9,226.5 540.3,227.1 540.6,224.6 540.9,225.2 541.3,224 541.6,227.2 541.9,226.8 542.3,226.7 542.6,226.2 542.9,226.1 543.3,225.9 543.6,227.6 543.9,225.6 544.3,227.5 544.6,226.6 544.9,224.7 545.3,223.8 545.6,224.3 545.9,225 546.3,223.5 546.6,226 546.9,227 547.3,226.5 547.6,224 547.9,223.1 548.3,226.7 548.6,227.2 549,224.9 549.3,226.2 549.6,225.5 550,225.2 550.3,227.1 550.6,225.2 551,226.8 551.3,227.9 551.6,225.9 552,228.6 552.3,225 552.6,227.8 553,226.8 553.3,229.7 553.6,226.5 554,225.2 554.3,227.8 554.6,223.8 555,226.2 555.3,225 555.6,227.9 556,226.4 556.3,227.8 556.6,227 557,225.9 557.3,224.8 557.6,229.5 558,227.4 558.3,225.3 558.6,225.9 559,227.1 559.3,224.1 559.6,228.7 560,225.9 560.3,225.9 560.6,228 561,226.8 561.3,225.4 561.6,227.7 562,227.1 562.3,227.7 562.6,225.1 563,224.8 563.3,226.8 563.6,225.6 564,223.6 564.3,225.5 564.6,227 565,225.4 565.3,227.9 565.6,225.9 566,226.5 566.3,224.7 566.6,225.7 567,226.4 567.3,227.3 567.6,226.8 568,228 568.3,224.3 568.6,227 569,227 569.3,225.9 569.6,227.1 570,226.3 570.3,227.7 570.6,226.8 571,227.8 571.3,226 571.6,228.3 572,227 572.3,228.5 572.6,226.2 573,226 573.3,227 573.6,226.4 574,225.8 574.3,227 574.6,226.9 575,226.1 575.3,226.3 575.6,225.4 576,226.6 576.3,224.8 576.6,228.7 577,227.2 577.3,228.7 577.6,226.4 578,228.3 578.3,227.5 578.6,228.5 579,228.1 579.3,224.8 579.6,227.9 580,224.7 580.3,228.1 580.6,226.6 581,225.2 581.3,227.6 581.6,226.9 582,225.8 582.3,226.2 582.6,227.9 583,225.7 583.3,226.3 583.6,229.5 584,226.2 584.3,227.5 584.6,227.6 585,228.2 585.3,228 585.6,223.8 586,226.1 586.3,228.1 586.6,225.8 587,229.1 587.3,227.4 587.6,225.8 588,228.1 588.3,229.9 588.6,226.8 589,228.3 589.3,226.6 589.6,226.8 590,227.5 590.3,228 590.6,227.8 591,227.6 591.3,230.3 591.6,225.9 592,224.7 592.3,227.4 592.6,226.9 593,224.9 593.3,228.8 593.6,226.1 594,225.5 594.3,228.1 594.6,228.5 595,230.8 595.3,226.1 595.6,226.5 596,227.7 596.3,227.5 596.6,228 597,227.1 597.3,225.9 597.6,227.1 598,228.1 598.3,227.9 598.6,225.9 599,227.5 599.3,227.5 599.6,226.8 600,227.2 600.3,227.8 600.6,231 601,227.6 601.3,226 601.6,226.7 602,226.1 602.3,228.1 602.6,224.2 603,225.6 603.3,228 603.7,227.6 604,227.2 604.3,228.3 604.7,226.1 605,228.4 605.3,226.8 605.7,226.8 606,229 606.3,227.4 606.7,227.9 607,229.1 607.3,227.1 607.7,229 608,230.8 608.3,227.7 608.7,229 609,228.6 609.3,226.1 609.7,226 610,227.9 610.3,225.5 610.7,228.5 611,229 611.3,229.5 611.7,229.6 612,230.7 612.3,228.7 612.7,230.7 613,229.6 613.3,229.6 613.7,228.8 614,230.1 614.3,227.9 614.7,229.7 615,230.1 615.3,227.8 615.7,227.2 616,227.2 616.3,227.8 616.7,228.1 617,228.8 617.3,230.2 617.7,230 618,228.4 618.3,227.5 618.7,226.4 619,228.9 619.3,228.7 619.7,228.1 620,228.6 620.3,229 620.7,226.1 621,229.1 621.3,229.3 621.7,228.4 622,227 622.3,228.3 622.7,228.9 623,230.7 623.3,229.8 623.7,229.3 624,228.4 624.3,226.9 624.7,228.1 625,227.2 625.3,228.9 625.7,230.3 626,230.2 626.3,229.8 626.7,228.5 627,229.6 627.3,228 627.7,226 628,228.7 628.3,228.8 628.7,226.7 629,228.2 629.3,225.8 629.7,228.1 630,230.1 630.3,227.9 630.7,230.4 631,229.2"/>
<polyline stroke="#0000ff" stroke-width="2.90" points="67.9,5 68.2,27.7 68.7,43.1 69.6,50.3 70.5,61.1 71.4,70.2 72.3,79.2 74.1,86.4 75.9,92.8 77.7,96.4 79,94.6"/>
</g>
<g clip-path="url(#cb)" fill="none" stroke-width="2.083" stroke-linejoin="round" stroke-linecap="square">
<polyline stroke="#ff0000" points="67.4,450.6 68.5,462 70,473.7 72,468.5 74.3,462.5 76.5,456.5 78.2,458 79.5,466 80.5,469.5 81.5,468 82.4,460 83,455 84.6,454.9 86.5,452 88.5,447 90.5,446 93,445.5 96,447 99,444 101.5,441 103.2,438.5 105.5,444 108.3,449.2 111,447.5 114,448.5 117.1,450.5 120.3,451.2 123,449 125.5,447.5 127,446.4 127.5,445.9 128,444.5 128.5,441.4 129,443 129.5,445.4 130,446.9 130.5,449.4 131,449.4 131.5,448.4 132,450.8 132.5,452.1 133,450.4 133.5,451.9 134,451.1 134.5,452 135,450.1 135.5,451 136,452.4 136.5,451.8 137,450.4 137.5,452.1 138,451.4 138.5,450.1 139,449 139.5,451 140,450 140.5,450.7 141,450.8 141.5,449.3 142,449.1 142.5,449.6 143,448.8 143.5,447.5 144,449.6 144.5,449.6 145,449.1 145.5,450.1 146,449.6 146.5,449.7 147,450.7 147.5,449.1 148,449 148.5,450.1 149,449.1 149.5,450.9 150,449.6 150.5,448.9 151,450 151.5,448.7 152,451.6 152.5,450.6 153,451.2 153.5,451.2 154,451 154.5,450.1 155,451.5 155.5,450.6 156,450.3 156.5,449.4 157,452 157.5,451 158,451 158.5,450 159,452.4 159.5,451.7 160,452.7 160.5,452 161,451.5 161.5,452.6 162,451.1 162.5,451.2 163,452.3 163.5,453 164,453.4 164.5,452.5 165,452.4 165.5,452.6 166,452.3 166.5,452.1 167,452.8 167.5,452.1 168,452.5 168.5,453.7 169,453.1 169.5,452.7 170,453.6 170.5,452.9 171,453.4 171.5,452.2 172,452.1 172.5,451.6 173,453.5 173.5,453.7 174,453.6 174.5,453.2 175,453.2 175.5,452.9 176,453.5 176.5,453 177,452.4 177.6,453.7 178.1,453.6 178.6,453.4 179.1,453 179.6,452.7 180.1,453 180.6,453 181.1,452 181.6,452.4 182.1,452 182.6,453.4 183.1,451.8 183.6,452.1 184.1,452.5 184.6,453.3 185.1,452.8 185.6,454.7 186.1,454.2 186.6,452.3 187.1,454.2 187.6,454.4 188.1,453.5 188.6,454.4 189.1,454.6 189.6,454.2 190.1,454.6 190.6,454.9 191.1,454.3 191.6,454.6 192.1,453.9 192.6,455.1 193.1,454.4 193.6,455.7 194.1,456.3 194.6,456.1 195.1,454.8 195.6,455.5 196.1,455.1 196.6,455.6 197.1,454.9 197.6,454.8 198.1,455.4 198.6,454.9 199.1,456.2 199.6,455.8 200.1,455.6 200.6,455.4 201.1,455.4 201.6,456.2 202.1,455.7 202.6,455.8 203.1,457.1 203.6,456.2 204.1,456.1 204.6,456.3 205.1,457.3 205.6,456.2 206.1,456.2 206.6,457 207.1,456.8 207.6,456.7 208.1,455.1 208.6,455.7 209.1,455.1 209.6,455.8 210.1,454.8 210.6,455.8 211.1,456.9 211.6,456.6 212.1,455.2 212.6,457.4 213.1,457 213.6,456.7 214.1,456.8 214.6,456.5 215.1,457.3 215.6,456.6 216.1,455.6 216.6,455.9 217.1,457.3 217.6,457 218.1,456.8 218.6,455.9 219.1,456.8 219.6,457.2 220.1,456.7 220.6,457.2 221.1,457.4 221.6,457.3 222.1,457 222.6,457 223.1,456 223.6,456.6 224.1,457.3 224.6,457.8 225.1,457.1 225.6,457.6 226.1,457.1 226.6,456.6 227.1,457.4 227.6,457.5 228.1,456.8 228.6,456.9 229.1,457.4 229.6,457.1 230.1,457.6 230.6,456.5 231.1,457.6 231.6,456.8 232.1,457.4 232.6,456.4 233.1,457.8 233.6,457.5 234.1,458.5 234.6,456.4 235.1,456.2 235.6,457.4 236.1,457.3 236.6,455.7 237.1,456.8 237.6,457 238.1,457.3 238.6,456.7 239.1,455.9 239.6,455.8 240.1,458.1 240.6,457.2 241.1,457.5 241.6,456.8 242.1,456.8 242.6,456.8 243.1,456.4 243.6,456.8 244.1,456.4 244.6,456.7 245.1,457.6 245.6,457 246.1,456.7 246.6,458 247.1,457.8 247.6,457.2 248.1,456.3 248.6,458 249.1,458.1 249.6,457 250.1,458.2 250.6,457 251.1,457.3 251.6,457.2 252.1,457.6 252.6,457.6 253.1,458.5 253.6,457.5 254.1,457.9 254.6,457.6 255.1,457.7 255.6,457 256.1,457.5 256.6,458.4 257.1,458.2 257.6,457.3 258.1,457.9 258.6,457.6 259.1,457.8 259.6,457.8 260.1,457.4 260.6,458.1 261.1,458.2 261.6,457.7 262.1,457.3 262.6,457.6 263.1,457.1 263.6,458.2 264.1,459 264.6,456.4 265.1,458.3 265.6,458.3 266.1,458.6 266.6,458.4 267.1,457.8 267.6,458.6 268.1,458.5 268.6,458.6 269.1,458.6 269.6,458.4 270.1,460 270.6,458.1 271.1,458.7 271.6,458.2 272.1,458.7 272.6,459.6 273.1,458.6 273.6,458 274.1,457.7 274.6,458.6 275.1,457.8 275.6,458.4 276.1,457.6 276.6,457.6 277.1,457.8 277.6,456.9 278.1,458.5 278.7,457.3 279.2,458.1 279.7,458.4 280.2,459.6 280.7,458.6 281.2,458.8 281.7,458 282.2,458.1 282.7,458.1 283.2,458.6 283.7,457.4 284.2,458.2 284.7,459.7 285.2,457.7 285.7,457.4 286.2,458.3 286.7,458.6 287.2,459.6 287.7,459 288.2,459.3 288.7,458.3 289.2,458.7 289.7,458.9 290.2,458.3 290.7,459 291.2,458.8 291.7,459.1 292.2,458.1 292.7,457.7 293.2,459.5 293.7,458.6 294.2,458.4 294.7,459.8 295.2,458.9 295.7,458.6 296.2,458.1 296.7,458.7 297.2,458.7 297.7,458.4 298.2,459.4 298.7,459 299.2,459 299.7,458.3 300.2,458.5 300.7,459.6 301.2,459.2 301.7,458.8 302.2,459.2 302.7,459 303.2,458.6 303.7,458.7 304.2,459.1 304.7,458.8 305.2,458.1 305.7,458.2 306.2,458.9 306.7,458.3 307.2,459.2 307.7,459.2 308.2,458.7 308.7,458.2 309.2,459.1 309.7,459.6 310.2,459.6 310.7,460.3 311.2,459.5 311.7,459.5 312.2,459.7 312.7,459.3 313.2,460.4 313.7,459.1 314.2,458.8 314.7,458.9 315.2,459.8 315.7,458.8 316.2,458.7 316.7,459.4 317.2,459.8 317.7,458.9 318.2,459.6 318.7,458.9 319.2,460 319.7,458.7 320.2,459.1 320.7,459.1 321.2,458.8 321.7,459.2 322.2,459.6 322.7,458.8 323.2,460.3 323.7,459.4 324.2,459.4 324.7,458.8 325.2,459.1 325.7,459.6 326.2,458.5 326.7,458.6 327.2,458.5 327.7,458.2 328.2,459.3 328.7,458.5 329.2,459.9 329.7,458.3 330.2,458.8 330.7,459 331.2,458.5 331.7,457.8 332.2,458.7 332.7,459.1 333.2,458.8 333.7,459.5 334.2,458.5 334.7,459.8 335.2,460.9 335.7,460.3 336.2,460.4 336.7,459.7 337.2,459.8 337.7,460.6 338.2,459.8 338.7,460.3 339.2,459.2 339.7,459.8 340.2,459.5 340.7,458 341.2,459 341.7,459.3 342.2,459.2 342.7,459.1 343.2,459.6 343.7,458.9 344.2,458.7 344.7,459.8 345.2,460.6 345.7,459.5 346.2,460.6 346.7,459.8 347.2,459 347.7,459.2 348.2,459.1 348.7,460 349.2,459.3 349.7,458.8 350.2,459.2 350.7,459.9 351.2,459.2 351.7,458.9 352.2,459.6 352.7,459.1 353.2,459.9 353.7,460.3 354.2,460 354.7,459.7 355.2,460.1 355.7,459.3 356.2,461.1 356.7,461.7 357.2,460.5 357.7,459.5 358.2,460.3 358.7,459.9 359.2,459.6 359.7,460.4 360.2,460.2 360.7,459.8 361.2,460.6 361.7,459.9 362.2,459.3 362.7,460 363.2,459.1 363.7,459.6 364.2,459.4 364.7,460 365.2,459.9 365.7,459.8 366.2,460.5 366.7,460.8 367.2,460.9 367.7,461.6 368.2,460.5 368.7,461.3 369.2,462 369.7,461 370.2,459.7 370.7,461.3 371.2,460.6 371.7,461 372.2,460.7 372.7,460.9 373.2,461.1 373.7,460.4 374.2,460.7 374.7,459.4 375.2,459.5 375.7,459.9 376.2,460.8 376.7,459.5 377.2,459.9 377.7,460.5 378.2,459.9 378.7,459.6 379.3,459.2 379.8,460.7 380.3,459.6 380.8,460.3 381.3,460.4 381.8,459.6 382.3,460.5 382.8,459.1 383.3,460.3 383.8,459.8 384.3,460.5 384.8,460.5 385.3,460.5 385.8,460.7 386.3,460.1 386.8,459.8 387.3,460 387.8,461.2 388.3,460.2 388.8,460.6 389.3,461 389.8,460.6 390.3,460.1 390.8,459.4 391.3,460.9 391.8,460.1 392.3,459.5 392.8,460.1 393.3,460.4 393.8,459.4 394.3,460.5 394.8,460.5 395.3,460.8 395.8,460.6 396.3,460.1 396.8,459.9 397.3,460.6 397.8,460.5 398.3,461.5 398.8,460.6 399.3,460.9 399.8,460.7 400.3,459.7 400.8,461 401.3,460.4 401.8,460 402.3,461 402.8,461.6 403.3,460.9 403.8,460.8 404.3,460.6 404.8,460.6 405.3,461.3 405.8,460.6 406.3,460.6 406.8,460.6 407.3,458.7 407.8,460.2 408.3,460.4 408.8,460.2 409.3,459.4 409.8,459.8 410.3,460.6 410.8,460.5 411.3,460.6 411.8,459.9 412.3,460.6 412.8,461.2 413.3,460.6 413.8,461.3 414.3,461.2 414.8,461.3 415.3,460.6 415.8,460.7 416.3,460.7 416.8,461.7 417.3,461.7 417.8,460.6 418.3,460.4 418.8,461.2 419.3,461.8 419.8,461.2 420.3,461.4 420.8,461.3 421.3,461.3 421.8,460.9 422.3,461.2 422.8,461.3 423.3,460.9 423.8,461.8 424.3,460.5 424.8,460.8 425.3,460.6 425.8,461.6 426.3,461.6 426.8,460.7 427.3,461.2 427.8,461 428.3,460.6 428.8,461 429.3,461.6 429.8,461.8 430.3,461.2 430.8,461.5 431.3,461.9 431.8,462.2 432.3,461.6 432.8,461.1 433.3,460.8 433.8,461.6 434.3,461.4 434.8,461.3 435.3,461.2 435.8,461.3 436.3,461.6 436.8,461.9 437.3,461.2 437.8,462.6 438.3,462.5 438.8,461.9 439.3,462.2 439.8,462.8 440.3,461.5 440.8,461.5 441.3,461.3 441.8,460.9 442.3,461.6 442.8,461 443.3,461.1 443.8,461 444.3,461 444.8,461.9 445.3,461.3 445.8,461.1 446.3,461 446.8,461.6 447.3,462.1 447.8,462.1 448.3,462.2 448.8,461.9 449.3,462.2 449.8,462.2 450.3,461.2 450.8,461.8 451.3,461.7 451.8,461.3 452.3,461.8 452.8,461.3 453.3,460.8 453.8,461.6 454.3,462 454.8,460.7 455.3,461.2 455.8,461.6 456.3,461.4 456.8,461.7 457.3,461.8 457.8,460.4 458.3,461.7 458.8,460.6 459.3,461 459.8,461 460.3,461.8 460.8,460.8 461.3,461.6 461.8,460.8 462.3,462.4 462.8,461.1 463.3,461.3 463.8,460.7 464.3,461 464.8,462 465.3,461.6 465.8,461 466.3,461.4 466.8,461.6 467.3,462.5 467.8,461.7 468.3,462 468.8,462.3 469.3,462.9 469.8,462.1 470.3,461.3 470.8,461.4 471.3,462.6 471.8,462 472.3,460.8 472.8,461.4 473.3,461.4 473.8,461.4 474.3,461.9 474.8,461.9 475.3,462.2 475.8,460.7 476.3,461.7 476.8,461.5 477.3,461.2 477.8,462.1 478.3,461.2 478.8,461.2 479.3,462.6 479.9,462.1 480.4,462.2 480.9,462.4 481.4,461.2 481.9,462.5 482.4,462 482.9,462.3 483.4,462.6 483.9,462.7 484.4,462.3 484.9,462.5 485.4,462.6 485.9,462.9 486.4,461.4 486.9,463 487.4,461.8 487.9,463.2 488.4,462.4 488.9,463 489.4,462 489.9,462.8 490.4,462.1 490.9,462 491.4,462 491.9,460.7 492.4,461.3 492.9,461.4 493.4,462.3 493.9,462.3 494.4,462.9 494.9,462.7 495.4,463.2 495.9,462.3 496.4,462.8 496.9,462.4 497.4,462.1 497.9,461.8 498.4,462.5 498.9,462.1 499.4,462.2 499.9,462 500.4,461.9 500.9,463.6 501.4,462.3 501.9,461.7 502.4,462.2 502.9,462.2 503.4,461.6 503.9,462.7 504.4,461.8 504.9,462.5 505.4,462 505.9,461.9 506.4,463.7 506.9,462 507.4,461.7 507.9,462.3 508.4,462.2 508.9,463.3 509.4,463.1 509.9,462.5 510.4,463.9 510.9,463 511.4,462.4 511.9,463.4 512.4,463.1 512.9,462.3 513.4,462.2 513.9,462.6 514.4,462.3 514.9,462.9 515.4,462.8 515.9,462.2 516.4,462.2 516.9,462.6 517.4,463.3 517.9,462.4 518.4,462.8 518.9,462.2 519.4,462.6 519.9,462.1 520.4,462.5 520.9,461.9 521.4,462 521.9,463.2 522.4,462.8 522.9,461.9 523.4,462.9 523.9,462.4 524.4,463 524.9,461.8 525.4,462.3 525.9,462.1 526.4,461.9 526.9,461.8 527.4,463.2 527.9,462.4 528.4,462.4 528.9,462 529.4,463.3 529.9,463.4 530.4,462.9 530.9,462.5 531.4,463.3 531.9,463 532.4,462.4 532.9,463.9 533.4,463.3 533.9,462.5 534.4,462.5 534.9,463.2 535.4,463.4 535.9,463.1 536.4,463.1 536.9,462.7 537.4,463.8 537.9,462.8 538.4,463 538.9,463.1 539.4,462.8 539.9,463.2 540.4,463.6 540.9,462 541.4,463 541.9,463.8 542.4,463.9 542.9,463.2 543.4,463.7 543.9,463.6 544.4,463.5 544.9,463.1 545.4,463.8 545.9,463.8 546.4,463.9 546.9,463.4 547.4,463.3 547.9,463.8 548.4,464.8 548.9,463.3 549.4,463.5 549.9,464.3 550.4,463.1 550.9,462.5 551.4,464 551.9,464.1 552.4,464 552.9,463.7 553.4,463.6 553.9,462.8 554.4,463.4 554.9,462.5 555.4,462.2 555.9,462.7 556.4,462.2 556.9,462.2 557.4,462.5 557.9,462.6 558.4,462.9 558.9,462.5 559.4,462.8 559.9,463 560.4,463.2 560.9,463.3 561.4,463.4 561.9,463.2 562.4,463.3 562.9,463.5 563.4,463.3 563.9,463.4 564.4,463 564.9,463.5 565.4,463.8 565.9,463.1 566.4,463.8 566.9,463 567.4,463.6 567.9,463.8 568.4,463.2 568.9,462.9 569.4,463.3 569.9,462.9 570.4,462.7 570.9,463.5 571.4,462.3 571.9,463.5 572.4,462.8 572.9,463.6 573.4,463.2 573.9,464.3 574.4,463.5 574.9,462.9 575.4,465 575.9,463.9 576.4,463.8 576.9,463.8 577.4,463.6 577.9,463.8 578.4,463.4 578.9,464.5 579.4,463.4 579.9,463.9 580.4,464.2 581,463.6 581.5,464.1 582,463.5 582.5,463.4 583,463.4 583.5,464.1 584,464.1 584.5,463.3 585,464 585.5,463.3 586,463.7 586.5,463.9 587,462.8 587.5,463.9 588,463.6 588.5,463.1 589,464 589.5,463.8 590,463.9 590.5,463.6 591,463.5 591.5,463.3 592,463.7 592.5,463.4 593,463.7 593.5,464.1 594,464.2 594.5,464 595,464 595.5,463.7 596,464.2 596.5,464.2 597,463.5 597.5,463.4 598,463.2 598.5,463.4 599,463.3 599.5,464.2 600,464 600.5,463.1 601,464 601.5,463.8 602,463.3 602.5,464.2 603,464 603.5,464.4 604,464.5 604.5,464.1 605,464.8 605.5,464.2 606,463.8 606.5,463.4 607,464.9 607.5,463.6 608,464 608.5,464.1 609,464.4 609.5,463.5 610,463.2 610.5,464.2 611,463.6 611.5,464 612,464.9 612.5,463.8 613,464.2 613.5,463.3 614,464.8 614.5,463.5 615,463.8 615.5,463.6 616,463.5 616.5,464.2 617,463.8 617.5,463.6 618,463.7 618.5,463.8 619,463.9 619.5,463.9 620,463.5 620.5,463.7 621,464.8 621.5,464 622,464.8 622.5,464.2 623,464.6 623.5,464.3 624,463.8 624.5,464.4 625,464.9 625.5,465.1 626,465 626.5,464.3 627,464.3 627.5,463.8 628,464.3 628.5,464.4 629,464.1 629.5,463.6 630,464 630.5,463.9 631,464"/>
<polyline stroke="#0000ff" points="67.6,287.9 69,330 70.3,363.8 71.3,345 72.6,300 73.9,271.6 74.6,250 76.5,240 79.5,246 80.8,262 81.7,302.3 82.7,262 83.6,268 84.1,280 85,303.2 86.1,277.5 87,300.5 87.5,298 88.4,262 89.5,262 90.8,308.5 91.5,318 92.2,326 92.7,300 93.2,262 94.2,262 94.9,300 95.5,328 96,308.4 96.6,330 97.2,312 98.2,340 99.3,279.5 100,335 100.6,318 101.1,345 101.7,322 102.2,346 102.7,318 103.3,348 104,324 104.7,350 105.3,330 105.9,352 106.8,341 107.6,352 108.4,343.4 109.3,349 110.4,345.5 111.5,353.7 112.9,357.8 114.1,355.8 115,368.1 116.2,366.1 117.2,372.2 118.3,380.5 118.8,340 119.3,311.5 120,309.5 120.6,312.5 121.1,326.9 122.4,368.1 123.8,392.8 125,402.6 126,396.8 127,393 128,394 129,390.4 130,390.8 131,392.5 132,388.2 133,390.2 134,393.6 135,399 136,400.9 137,401.5 138,396 139,396.7 140,392.4 141,391 142,399.5 143,401 144,398.5 145,396.9 146,395.4 147,398.1 148,394 149,399.9 150,406.3 151.1,405.3 152.1,406.8 153.1,406.1 154.1,404 155.1,408 156.1,409.6 157.1,407.8 158.1,407.8 159.1,407.5 160.1,409.3 161.1,408 162.1,409 163.1,409.5 164.1,413.9 165.1,412.3 166.1,418.4 167.1,412.8 168.1,414.2 169.1,413.1 170.1,414.4 171.1,414.8 172.1,417.3 173.1,416 174.1,413.9 175.1,416 176.1,416.5 177.1,416 178.1,418.3 179.1,417.8 180.1,416.6 181.1,416.2 182.1,418.1 183.1,416.8 184.1,419.6 185.1,420.2 186.1,418.4 187.1,418.1 188.1,421.3 189.1,420.5 190.1,420.2 191.1,420.9 192.1,424 193.1,421.9 194.1,425 195.1,423.7 196.1,420.5 197.1,423.7 198.1,425.3 199.1,421.3 200.1,422.2 201.2,423.9 202.2,423.6 203.2,426.7 204.2,423.7 205.2,427.2 206.2,423.5 207.2,424.5 208.2,426.2 209.2,426.7 210.2,426.5 211.2,428.6 212.2,429.1 213.2,429.5 214.2,427.2 215.2,428.5 216.2,427.3 217.2,429.5 218.2,425 219.2,427.2 220.2,427.8 221.2,427.6 222.2,430.3 223.2,427 224.2,427.9 225.2,427.6 226.2,429.2 227.2,428.4 228.2,430.8 229.2,431 230.2,427.7 231.2,428 232.2,431.6 233.2,431.4 234.2,429.4 235.2,431.4 236.2,430.2 237.2,432.5 238.2,430.1 239.2,430.9 240.2,432.2 241.2,431.8 242.2,433 243.2,432.4 244.2,430.5 245.2,432.4 246.2,431.1 247.2,434 248.2,434.2 249.2,433.9 250.2,435.2 251.2,433.9 252.3,434.8 253.3,434.4 254.3,434.6 255.3,434.7 256.3,434.3 257.3,436.1 258.3,433.3 259.3,433 260.3,434 261.3,436.5 262.3,434.8 263.3,434.5 264.3,434.6 265.3,436.1 266.3,435.7 267.3,437.1 268.3,435.8 269.3,437.1 270.3,435.5 271.3,437 272.3,439.5 273.3,436.6 274.3,436.8 275.3,438 276.3,436.3 277.3,436.9 278.3,436.9 279.3,437.8 280.3,436.4 281.3,439 282.3,437.9 283.3,438.1 284.3,437.9 285.3,438.1 286.3,436.2 287.3,439.4 288.3,437.7 289.3,439.2 290.3,438.5 291.3,438.5 292.3,439.2 293.3,440.3 294.3,439 295.3,438.7 296.3,439.7 297.3,437.4 298.3,438.9 299.3,438.9 300.3,439.5 301.3,438.9 302.4,440.8 303.4,440 304.4,440.4 305.4,440.4 306.4,440.3 307.4,440.2 308.4,441.8 309.4,441.5 310.4,442.1 311.4,441 312.4,441.4 313.4,441.6 314.4,441.1 315.4,441.4 316.4,440.4 317.4,440.8 318.4,441 319.4,441 320.4,442.1 321.4,442.2 322.4,442.3 323.4,442 324.4,443 325.4,443.1 326.4,443 327.4,442.5 328.4,443.9 329.4,442.2 330.4,442 331.4,442.3 332.4,444.1 333.4,443.4 334.4,443.1 335.4,442 336.4,443.5 337.4,443.1 338.4,442.5 339.4,444.6 340.4,444 341.4,445 342.4,444.2 343.4,444.7 344.4,444 345.4,445 346.4,444.4 347.4,445.2 348.4,445 349.4,444.3 350.4,445.1 351.4,445.3 352.4,444.8 353.5,445.3 354.5,446.1 355.5,446.4 356.5,445.7 357.5,444.3 358.5,446.3 359.5,447.1 360.5,445.9 361.5,445.6 362.5,446.4 363.5,446.4 364.5,446.9 365.5,446 366.5,447.5 367.5,447.1 368.5,445.9 369.5,447.3 370.5,446.6 371.5,447.2 372.5,447.1 373.5,446.9 374.5,447.2 375.5,446.8 376.5,446.6 377.5,447 378.5,447.1 379.5,447.6 380.5,447.5 381.5,446.4 382.5,448 383.5,447.5 384.5,448.2 385.5,448.1 386.5,447.9 387.5,448.2 388.5,447 389.5,448.9 390.5,449.2 391.5,448.5 392.5,447.9 393.5,448.7 394.5,448.1 395.5,449.4 396.5,448.2 397.5,447.8 398.5,448.1 399.5,448.2 400.5,449.1 401.5,448.7 402.5,449 403.6,448.7 404.6,449.7 405.6,449 406.6,449.2 407.6,450.1 408.6,449.4 409.6,448.9 410.6,449.2 411.6,450.1 412.6,449.7 413.6,449 414.6,450.3 415.6,448.7 416.6,448.4 417.6,449.2 418.6,448.7 419.6,449.8 420.6,450 421.6,449.9 422.6,449.8 423.6,449.6 424.6,450.8 425.6,449.2 426.6,450.8 427.6,450.6 428.6,450.5 429.6,450.9 430.6,449.8 431.6,451.4 432.6,451.1 433.6,451.6 434.6,449.7 435.6,451.2 436.6,451 437.6,449.8 438.6,451 439.6,451.3 440.6,450.9 441.6,451.7 442.6,451.8 443.6,451.3 444.6,451.4 445.6,452.2 446.6,451.2 447.6,452.1 448.6,452.7 449.6,451.9 450.6,452.3 451.6,452.1 452.6,452.7 453.6,451.4 454.7,451.3 455.7,451.9 456.7,452.1 457.7,453.1 458.7,453.5 459.7,453.1 460.7,453.5 461.7,452.7 462.7,452.7 463.7,452.1 464.7,453.8 465.7,453.5 466.7,453.3 467.7,452.6 468.7,452.8 469.7,453.8 470.7,453.6 471.7,454.3 472.7,453.9 473.7,453.5 474.7,453.3 475.7,454 476.7,455.1 477.7,455.4 478.7,453.9 479.7,454.7 480.7,454 481.7,454.6 482.7,452.9 483.7,454.2 484.7,453.6 485.7,455.5 486.7,454.5 487.7,455 488.7,454.8 489.7,454.1 490.7,455.2 491.7,455.6 492.7,455.1 493.7,455.3 494.7,455.7 495.7,455.4 496.7,455.1 497.7,454.3 498.7,454.8 499.7,454.9 500.7,455.8 501.7,456.2 502.7,455.5 503.7,456.1 504.8,454.2 505.8,455.8 506.8,455 507.8,456.2 508.8,456.5 509.8,456.5 510.8,456.3 511.8,456.6 512.8,457 513.8,455.8 514.8,457 515.8,456 516.8,455.5 517.8,456.6 518.8,456.8 519.8,456.6 520.8,456.1 521.8,456.8 522.8,456.4 523.8,458 524.8,456.9 525.8,456.9 526.8,456.5 527.8,457.2 528.8,457.8 529.8,456.6 530.8,456.8 531.8,456 532.8,457.1 533.8,458.1 534.8,456.6 535.8,457.1 536.8,457 537.8,457.3 538.8,457.1 539.8,457.4 540.8,457 541.8,457.8 542.8,458.3 543.8,458.2 544.8,456.8 545.8,458.6 546.8,458.4 547.8,458.7 548.8,457.6 549.8,457.8 550.8,458.6 551.8,459.2 552.8,457.8 553.8,458.5 554.8,458.7 555.9,458.3 556.9,458.7 557.9,458.3 558.9,459.3 559.9,457.8 560.9,458.8 561.9,458.4 562.9,458.7 563.9,458.3 564.9,457.3 565.9,459.7 566.9,459.3 567.9,459.2 568.9,459 569.9,459.2 570.9,458.9 571.9,459.2 572.9,459.9 573.9,458.9 574.9,458.8 575.9,460.3 576.9,459.1 577.9,459.5 578.9,459.3 579.9,459.7 580.9,459.8 581.9,459.6 582.9,459 583.9,459.1 584.9,459.6 585.9,460.6 586.9,458.7 587.9,459.6 588.9,459.9 589.9,459.4 590.9,459.9 591.9,459.7 592.9,460.2 593.9,460.7 594.9,459.7 595.9,460 596.9,460.2 597.9,460 598.9,460 599.9,458.9 600.9,460.1 601.9,459.5 602.9,459.9 603.9,460.3 604.9,460.4 606,459.9 607,460 608,460.1 609,459.7 610,461 611,461.2 612,460.2 613,461.2 614,460.8 615,459.9 616,460.9 617,460.8 618,460.5 619,459.8 620,460.2 621,459.4 622,460.6 623,460.5 624,460.1 625,460 626,461.3 627,459.9 628,461.1 629,460.8 630,461.4 631,460"/>
<polyline stroke="#ff00ff" points="67.4,458.3 68.5,470 69.5,478 71,472 72.5,466 74.3,461.7 76.9,454.9 79.5,449 82,443.7 83.7,451.4 85.3,450 86.8,425 87.7,410.3 88.4,415 89,425.7 90,440 91.5,446 93.5,443 95.6,441.6 96.2,451.8 98,444 100,446 102.5,443 104.5,440.4 107,446.7 109,444 110.8,441.6 113.3,448 115,441 116.1,437.8 117.2,446 118.5,448 120.3,438.5 122,443 124.3,444.9 125.7,444 127,446.5 127.5,446.3 128,443.3 128.5,440.3 129,440.6 129.5,442.3 130,444.5 130.5,445.8 131,445.5 131.5,447 132,447.4 132.5,447.3 133,446.3 133.5,447.8 134,446.6 134.5,447.5 135,448.2 135.5,448.6 136,447.8 136.5,448.5 137,448.6 137.5,448.1 138,447.2 138.5,447.5 139,447.1 139.5,447 140,447.3 140.5,447.1 141,445.6 141.5,445.6 142,444.6 142.5,443.9 143,442.4 143.5,444 144,444.2 144.5,445.6 145,447.5 145.5,448.6 146,448.8 146.5,448.1 147,447.5 147.5,448.6 148,449 148.5,449.2 149,450.1 149.5,449.3 150,450 150.5,448.5 151,447.8 151.5,449.1 152,447.5 152.5,447.1 153,447.9 153.5,448.6 154,449.1 154.5,448.5 155,449.2 155.5,448.5 156,447.4 156.5,447.9 157,447.7 157.5,448.9 158,447.9 158.5,448.7 159,449.5 159.5,450.9 160,450.9 160.5,450.2 161,450.6 161.5,450.2 162,452.2 162.5,448.9 163,448.5 163.5,448.5 164,448.9 164.5,449.7 165,450.7 165.5,449.8 166,449.7 166.5,449.2 167,448.7 167.5,447.2 168,447.6 168.5,446.5 169,445.6 169.5,444 170,443.3 170.5,445.2 171,445.7 171.5,447.7 172,447.5 172.5,447.6 173,448.9 173.5,449.6 174,449.9 174.5,450.2 175,450.8 175.5,449.4 176,450.4 176.5,450.8 177,450.6 177.6,451.4 178.1,451.6 178.6,451.3 179.1,451.1 179.6,452.5 180.1,450.9 180.6,450.8 181.1,451.6 181.6,452 182.1,450.3 182.6,450.4 183.1,452 183.6,451.9 184.1,451.8 184.6,451.1 185.1,451.7 185.6,450.3 186.1,450.4 186.6,452 187.1,450 187.6,450.6 188.1,450.9 188.6,450.5 189.1,449.6 189.6,450 190.1,450.8 190.6,450.3 191.1,451.8 191.6,450.9 192.1,452.3 192.6,451.1 193.1,451.8 193.6,451.1 194.1,450.7 194.6,449.7 195.1,450.8 195.6,450.4 196.1,450.7 196.6,450.3 197.1,450.3 197.6,450.5 198.1,451.1 198.6,451.9 199.1,451.2 199.6,450.7 200.1,450.9 200.6,450.7 201.1,450.4 201.6,451.2 202.1,451 202.6,451.1 203.1,452.4 203.6,451.8 204.1,452.1 204.6,451.3 205.1,451.6 205.6,451 206.1,450.6 206.6,450.9 207.1,451.7 207.6,452.3 208.1,453.4 208.6,452.1 209.1,451.3 209.6,452.1 210.1,452.8 210.6,451.9 211.1,452.4 211.6,453 212.1,452.8 212.6,452.9 213.1,452.5 213.6,452.4 214.1,453 214.6,452.8 215.1,452.4 215.6,452.6 216.1,452.3 216.6,452.3 217.1,452.6 217.6,452.5 218.1,453.7 218.6,452.3 219.1,452.4 219.6,453.3 220.1,451.7 220.6,452.4 221.1,453.1 221.6,452.6 222.1,452.6 222.6,452.2 223.1,452.6 223.6,452.2 224.1,453 224.6,452.6 225.1,452.1 225.6,452.8 226.1,451.7 226.6,451.9 227.1,452.8 227.6,452.7 228.1,452.1 228.6,452.4 229.1,452.7 229.6,452.6 230.1,453.1 230.6,452.9 231.1,453.2 231.6,452.9 232.1,453.2 232.6,452.9 233.1,453.4 233.6,453.5 234.1,453.7 234.6,453.6 235.1,453.3 235.6,453.5 236.1,454.1 236.6,453.2 237.1,453.4 237.6,454.1 238.1,453.6 238.6,453.6 239.1,452.8 239.6,452.9 240.1,453.7 240.6,454.8 241.1,452.8 241.6,453 242.1,454.2 242.6,454 243.1,453.2 243.6,454.1 244.1,453.5 244.6,453 245.1,453.1 245.6,452.8 246.1,453.3 246.6,452.8 247.1,452.7 247.6,453 248.1,453.6 248.6,454.1 249.1,453.2 249.6,453 250.1,453.7 250.6,454.1 251.1,453.3 251.6,454.4 252.1,453.2 252.6,454.4 253.1,454.1 253.6,452.8 254.1,454 254.6,453.6 255.1,453.7 255.6,453.4 256.1,453.7 256.6,453.4 257.1,453.7 257.6,454.1 258.1,454.3 258.6,454.1 259.1,454 259.6,453.9 260.1,453.7 260.6,453.3 261.1,454.6 261.6,453.9 262.1,454.2 262.6,453.3 263.1,454.2 263.6,454.6 264.1,453.7 264.6,454.2 265.1,453.7 265.6,453.9 266.1,453.6 266.6,452.4 267.1,454.1 267.6,454.2 268.1,454.3 268.6,454.9 269.1,454.5 269.6,454.3 270.1,453.8 270.6,455.7 271.1,453.5 271.6,454.1 272.1,454 272.6,454.8 273.1,454.4 273.6,454.5 274.1,453.3 274.6,453.9 275.1,454.8 275.6,454 276.1,453.6 276.6,454.4 277.1,453.9 277.6,454.1 278.1,454.3 278.7,453.5 279.2,453.9 279.7,454.7 280.2,453.8 280.7,453.9 281.2,453.7 281.7,454.1 282.2,454.1 282.7,453.4 283.2,453.9 283.7,454.7 284.2,453 284.7,454.5 285.2,454.6 285.7,453.5 286.2,453.5 286.7,454.2 287.2,455.3 287.7,454.3 288.2,454.6 288.7,454.6 289.2,454.5 289.7,455.5 290.2,454.6 290.7,453.8 291.2,454.6 291.7,454.9 292.2,454 292.7,454.7 293.2,454.3 293.7,454 294.2,454.2 294.7,455.2 295.2,454.7 295.7,454 296.2,455.3 296.7,454.7 297.2,453.3 297.7,454.3 298.2,453.6 298.7,454.5 299.2,456.2 299.7,455.8 300.2,454.8 300.7,454.2 301.2,454.1 301.7,454.4 302.2,455 302.7,455.7 303.2,455.2 303.7,455.9 304.2,455.2 304.7,454.2 305.2,455.5 305.7,455.8 306.2,455.5 306.7,455.7 307.2,454.6 307.7,454.9 308.2,455.1 308.7,455.3 309.2,455.4 309.7,455.6 310.2,454.9 310.7,454.6 311.2,455 311.7,455.1 312.2,455 312.7,454.7 313.2,455.6 313.7,455.6 314.2,455.6 314.7,455.5 315.2,455.4 315.7,454.9 316.2,454.9 316.7,455.2 317.2,454 317.7,455 318.2,453.6 318.7,455.6 319.2,454.9 319.7,454.3 320.2,454.7 320.7,454.5 321.2,455.7 321.7,455.6 322.2,455.1 322.7,454.7 323.2,455.3 323.7,455.2 324.2,455 324.7,454.7 325.2,454.2 325.7,454.3 326.2,454.8 326.7,454.4 327.2,454.8 327.7,456.4 328.2,455.5 328.7,455.9 329.2,455.3 329.7,456.3 330.2,455.5 330.7,455.8 331.2,455.9 331.7,455.6 332.2,456.4 332.7,454.9 333.2,455.3 333.7,455.8 334.2,455.5 334.7,455.8 335.2,456.8 335.7,455.4 336.2,455.6 336.7,455.1 337.2,454.8 337.7,454.2 338.2,455.3 338.7,455.7 339.2,454.9 339.7,455.5 340.2,454.1 340.7,454.8 341.2,454.9 341.7,455.5 342.2,455.2 342.7,455.6 343.2,456.2 343.7,454.8 344.2,455.3 344.7,455.6 345.2,454.9 345.7,455.4 346.2,454.2 346.7,454.5 347.2,454.9 347.7,454 348.2,456.1 348.7,455.9 349.2,455.5 349.7,455.3 350.2,455.3 350.7,454.6 351.2,454.6 351.7,453.7 352.2,455.3 352.7,454.7 353.2,453.9 353.7,454.6 354.2,455.4 354.7,454.3 355.2,455 355.7,454.1 356.2,454.9 356.7,455.1 357.2,453.7 357.7,454.4 358.2,454.9 358.7,454.4 359.2,455.3 359.7,454.9 360.2,455.1 360.7,453.9 361.2,454.2 361.7,455 362.2,455.2 362.7,454.7 363.2,455 363.7,454.6 364.2,454.9 364.7,455.5 365.2,456.1 365.7,455.7 366.2,455.9 366.7,455.6 367.2,455.8 367.7,456 368.2,455 368.7,455.9 369.2,455.6 369.7,455.9 370.2,455.5 370.7,455 371.2,455.2 371.7,455.4 372.2,454.1 372.7,454.9 373.2,454.9 373.7,454.9 374.2,454.6 374.7,454.6 375.2,455 375.7,454.9 376.2,456 376.7,455.4 377.2,455.4 377.7,455.9 378.2,455.4 378.7,455.4 379.3,456 379.8,455.9 380.3,455.3 380.8,454.9 381.3,455.4 381.8,456.1 382.3,455.1 382.8,456 383.3,456.2 383.8,455.5 384.3,456.9 384.8,456.1 385.3,455.3 385.8,455.5 386.3,456.1 386.8,456.4 387.3,455.8 387.8,455.7 388.3,455.4 388.8,456.3 389.3,456 389.8,454.5 390.3,455.3 390.8,455.5 391.3,455 391.8,455.3 392.3,455.4 392.8,454.6 393.3,455.7 393.8,455 394.3,455.5 394.8,455.1 395.3,455 395.8,455.8 396.3,455.5 396.8,456.3 397.3,456 397.8,457.1 398.3,455.7 398.8,456.3 399.3,455.9 399.8,455.6 400.3,456.1 400.8,455.1 401.3,455.5 401.8,455.9 402.3,455.4 402.8,454.7 403.3,454.8 403.8,455.3 404.3,455.8 404.8,455.1 405.3,455.4 405.8,455.8 406.3,455.6 406.8,455.9 407.3,456 407.8,456.5 408.3,455.5 408.8,455.9 409.3,456 409.8,455.5 410.3,455.7 410.8,455.8 411.3,455 411.8,455.4 412.3,455 412.8,455.2 413.3,455.1 413.8,455.2 414.3,455.9 414.8,456.2 415.3,456.2 415.8,455.5 416.3,456.1 416.8,455.4 417.3,456.3 417.8,456.3 418.3,455.7 418.8,455.9 419.3,456.3 419.8,456.2 420.3,455.6 420.8,455.5 421.3,455.1 421.8,455.8 422.3,455.7 422.8,456.1 423.3,456.4 423.8,455.5 424.3,455.9 424.8,456.2 425.3,455.6 425.8,456.2 426.3,456 426.8,456.3 427.3,456.3 427.8,456.2 428.3,455.7 428.8,455.9 429.3,455.8 429.8,456.2 430.3,454.8 430.8,455.5 431.3,455.1 431.8,455.5 432.3,455.9 432.8,455.5 433.3,455.5 433.8,455.3 434.3,455.8 434.8,455.9 435.3,455.4 435.8,456.3 436.3,455.8 436.8,455 437.3,456 437.8,456.4 438.3,456.4 438.8,456.2 439.3,456.1 439.8,456.4 440.3,456.3 440.8,455.1 441.3,455.6 441.8,456 442.3,455.9 442.8,456.4 443.3,456.5 443.8,456.1 444.3,455.9 444.8,456.8 445.3,455.7 445.8,456.1 446.3,457.2 446.8,456.7 447.3,456.8 447.8,456.6 448.3,457.2 448.8,458 449.3,456.7 449.8,456.4 450.3,456.9 450.8,457.1 451.3,456.4 451.8,455.7 452.3,456.3 452.8,455.7 453.3,456.5 453.8,456 454.3,456.3 454.8,456.2 455.3,456.5 455.8,455.2 456.3,456.3 456.8,456.3 457.3,456.3 457.8,455.6 458.3,457 458.8,456.1 459.3,456.7 459.8,456.3 460.3,456.5 460.8,456.4 461.3,455.9 461.8,456.4 462.3,457.3 462.8,456.2 463.3,456.7 463.8,455.8 464.3,457.1 464.8,455.8 465.3,455.8 465.8,456.1 466.3,456.3 466.8,455.4 467.3,456 467.8,456.3 468.3,456.1 468.8,455.9 469.3,456.5 469.8,456.9 470.3,457.4 470.8,457 471.3,455.6 471.8,456.9 472.3,456.9 472.8,456.6 473.3,456.8 473.8,457.1 474.3,456.6 474.8,456.2 475.3,456.7 475.8,457.2 476.3,456.8 476.8,456.9 477.3,456.7 477.8,457.7 478.3,457.1 478.8,457.5 479.3,457.3 479.9,458.1 480.4,457.8 480.9,458.2 481.4,456.7 481.9,456.4 482.4,456.8 482.9,455.9 483.4,456.2 483.9,456.7 484.4,456.5 484.9,456.8 485.4,456.1 485.9,456.3 486.4,456.4 486.9,456.8 487.4,456.9 487.9,457 488.4,456.5 488.9,456.1 489.4,456.3 489.9,456.5 490.4,455.9 490.9,456.2 491.4,455.8 491.9,456.8 492.4,456.8 492.9,456.4 493.4,457.3 493.9,457 494.4,456.9 494.9,457.3 495.4,457.2 495.9,456.5 496.4,456.7 496.9,456.3 497.4,457.2 497.9,456.8 498.4,457.2 498.9,456.4 499.4,456.2 499.9,457.1 500.4,457 500.9,456.1 501.4,457.2 501.9,456.5 502.4,457.4 502.9,457 503.4,456.5 503.9,456.6 504.4,456.6 504.9,455.4 505.4,457 505.9,456.6 506.4,457.2 506.9,455.8 507.4,457.5 507.9,457.3 508.4,457 508.9,458.4 509.4,457.9 509.9,457.1 510.4,457.1 510.9,457.6 511.4,458 511.9,457.4 512.4,456.9 512.9,457.9 513.4,456.9 513.9,457.9 514.4,457.7 514.9,457.4 515.4,457.3 515.9,457.3 516.4,457.4 516.9,457.9 517.4,457.2 517.9,456.7 518.4,457.6 518.9,457.4 519.4,457 519.9,457.5 520.4,457.1 520.9,457.8 521.4,457 521.9,456.7 522.4,456.8 522.9,457 523.4,457 523.9,456.7 524.4,456.7 524.9,456.4 525.4,456.8 525.9,457.8 526.4,457.1 526.9,456.9 527.4,457.1 527.9,457.1 528.4,457.5 528.9,457.2 529.4,458 529.9,457.1 530.4,457.3 530.9,457.9 531.4,457.1 531.9,457.6 532.4,457 532.9,457.4 533.4,458 533.9,456.8 534.4,457.4 534.9,456.7 535.4,457.2 535.9,456.9 536.4,457.2 536.9,456.6 537.4,456.2 537.9,457.3 538.4,457 538.9,457.5 539.4,457.1 539.9,457.1 540.4,456.7 540.9,456.5 541.4,457.1 541.9,456.5 542.4,457.5 542.9,457.5 543.4,457.1 543.9,457.4 544.4,456.8 544.9,456.7 545.4,457.9 545.9,456.9 546.4,457.5 546.9,456.7 547.4,457.3 547.9,457.5 548.4,456.5 548.9,456.6 549.4,457 549.9,457.2 550.4,457.4 550.9,457.1 551.4,457.1 551.9,457.1 552.4,457.1 552.9,457.8 553.4,457.4 553.9,457.1 554.4,457.1 554.9,457.2 555.4,456.8 555.9,457.5 556.4,457.6 556.9,456.9 557.4,457.3 557.9,457.5 558.4,458 558.9,457.4 559.4,457.5 559.9,457.2 560.4,457.2 560.9,457.2 561.4,458.8 561.9,457.9 562.4,457.6 562.9,457.6 563.4,456.9 563.9,457.2 564.4,458 564.9,457.7 565.4,458.3 565.9,457.9 566.4,458.2 566.9,458 567.4,458.1 567.9,458 568.4,458.1 568.9,457.3 569.4,457.3 569.9,456.9 570.4,457.1 570.9,457.2 571.4,457.1 571.9,456.3 572.4,456.8 572.9,456.9 573.4,457.1 573.9,457 574.4,457.1 574.9,457.6 575.4,457.5 575.9,457.8 576.4,456.7 576.9,456.9 577.4,456.9 577.9,457.9 578.4,457.9 578.9,457.4 579.4,457.6 579.9,458 580.4,458.5 581,458.6 581.5,457.7 582,458.4 582.5,457.9 583,458.5 583.5,458.8 584,458 584.5,457.9 585,456.6 585.5,457.8 586,457 586.5,457.4 587,458.1 587.5,457.1 588,458.7 588.5,457.6 589,458.1 589.5,457.6 590,458.1 590.5,457.6 591,457.7 591.5,456.8 592,458 592.5,457.8 593,457.3 593.5,457.3 594,457 594.5,457.2 595,457.7 595.5,457.9 596,458.3 596.5,458.6 597,458.7 597.5,458.5 598,458.5 598.5,458.2 599,458.5 599.5,457.7 600,457.5 600.5,457.8 601,457.1 601.5,457.5 602,457 602.5,457.3 603,459.1 603.5,457.1 604,458.1 604.5,457.5 605,457.2 605.5,457.1 606,457.9 606.5,457.6 607,457.8 607.5,458.5 608,457.4 608.5,457.1 609,457.9 609.5,458.3 610,457.8 610.5,458.3 611,458.1 611.5,457.9 612,457.5 612.5,458 613,458.4 613.5,458.3 614,458.1 614.5,458.3 615,458.1 615.5,458.4 616,458 616.5,458.7 617,458.3 617.5,458.3 618,457.6 618.5,457.6 619,458.4 619.5,458.3 620,459.2 620.5,458.2 621,458 621.5,458.6 622,457.5 622.5,458.2 623,457.6 623.5,457 624,457.4 624.5,458 625,458 625.5,458 626,457.8 626.5,458.2 627,458.3 627.5,458.3 628,458.9 628.5,458.6 629,457.8 629.5,457.9 630,457.8 630.5,458.2 631,458.5"/>
<polyline stroke="#00ffff" points="67.8,489.1 69,486 70.9,480.6 73.4,468.6 75,465 76.9,460 78.6,451.4 79.1,430 79.5,416.3 80.2,418 80.6,435 81.1,454.9 82,468.6 83.7,458.3 85.4,468.6 86.7,466 88,468.6 88.6,455 89.4,430.9 89.9,429 90.4,440 91.2,464.4 92.2,448 93.1,430.3 94,445 95,464.4 96.9,441.6 97.5,463.2 99.4,437.8 100.7,461.9 102.6,442.9 103.8,460.6 105.8,450.8 107.8,457.7 109.8,451 111.8,457.7 113.8,452.8 115.8,457.7 117.7,459 118.4,440 118.9,425.9 119.6,422.5 120.3,423.5 121.6,429.5 123,452.1 124.3,462.9 125.7,464.3 127,458.3 127.5,457.6 128,454.7 128.5,455.8 129,456.6 129.5,454.6 130,455.1 130.5,454.9 131,454.2 131.5,453.8 132,452 132.5,453.3 133,453.9 133.5,454.5 134,455.8 134.5,456.5 135,455.7 135.5,454.8 136,453.9 136.5,454.1 137,454.6 137.5,453.2 138,453 138.5,453.4 139,451.3 139.5,451 140,452.4 140.5,451.3 141,451.8 141.5,451.6 142,450.9 142.5,453 143,452.1 143.5,453.3 144,454 144.5,454.5 145,453.9 145.5,454.9 146,452.9 146.5,453.5 147,452.3 147.5,452.9 148,451.1 148.5,452.2 149,452.8 149.5,452.2 150,454.1 150.5,454 151,453.3 151.5,453.6 152,453.8 152.5,453.7 153,453.6 153.5,453.8 154,453.7 154.5,452.5 155,452.9 155.5,452.6 156,452.2 156.5,452.2 157,451.8 157.5,452.8 158,453.4 158.5,452.3 159,452.3 159.5,451.9 160,451.6 160.5,451.7 161,452.5 161.5,450.9 162,453.1 162.5,452.5 163,451.9 163.5,451.5 164,452.7 164.5,452 165,453.9 165.5,452.6 166,453.1 166.5,452.2 167,453.5 167.5,453 168,453 168.5,453.8 169,452 169.5,451.4 170,451.4 170.5,452.5 171,452.8 171.5,453 172,453.6 172.5,454.1 173,452.9 173.5,454.2 174,453 174.5,452.7 175,454 175.5,454.1 176,454.2 176.5,453.2 177,455 177.6,454.5 178.1,453.9 178.6,454.6 179.1,454.7 179.6,454.6 180.1,454.2 180.6,455.7 181.1,454.3 181.6,454.9 182.1,454.6 182.6,454.7 183.1,453.4 183.6,455.7 184.1,455.3 184.6,454.2 185.1,454.9 185.6,454.1 186.1,454.6 186.6,453.9 187.1,452.9 187.6,453.4 188.1,453.3 188.6,453.1 189.1,452.2 189.6,453.4 190.1,454 190.6,454 191.1,453.4 191.6,455.2 192.1,454.1 192.6,454.5 193.1,454 193.6,453.5 194.1,453.9 194.6,453.1 195.1,452.8 195.6,452.2 196.1,453.5 196.6,453.7 197.1,453.3 197.6,453.1 198.1,453.2 198.6,454 199.1,453.2 199.6,453.6 200.1,454 200.6,453.8 201.1,454.1 201.6,454.3 202.1,453.7 202.6,455 203.1,453.4 203.6,453.8 204.1,453.9 204.6,453.7 205.1,453.1 205.6,453.8 206.1,453.3 206.6,453.8 207.1,454.2 207.6,454.3 208.1,453.9 208.6,453.5 209.1,454.9 209.6,453.5 210.1,454.5 210.6,453 211.1,453.7 211.6,454.5 212.1,453.2 212.6,453.1 213.1,454.5 213.6,454.9 214.1,454.6 214.6,454.4 215.1,453.8 215.6,454.3 216.1,454.5 216.6,453.7 217.1,452.9 217.6,454.4 218.1,453.1 218.6,453 219.1,453.5 219.6,454.3 220.1,453 220.6,453.7 221.1,454.8 221.6,454 222.1,453.7 222.6,453.4 223.1,453 223.6,454.5 224.1,453 224.6,453.8 225.1,454.4 225.6,453.7 226.1,454 226.6,454.9 227.1,454.5 227.6,455.1 228.1,455.1 228.6,455.2 229.1,453.5 229.6,454.3 230.1,454.1 230.6,454 231.1,453.2 231.6,454.1 232.1,454.9 232.6,454.8 233.1,453.9 233.6,454.3 234.1,454.3 234.6,454.8 235.1,453.9 235.6,454 236.1,453.5 236.6,454.6 237.1,455.2 237.6,454.3 238.1,454.4 238.6,454.4 239.1,453.3 239.6,454.2 240.1,454.7 240.6,454.4 241.1,453.9 241.6,453.6 242.1,453.8 242.6,454.9 243.1,454 243.6,454.4 244.1,454.5 244.6,454.2 245.1,453.9 245.6,454.6 246.1,454 246.6,454.2 247.1,455 247.6,454.7 248.1,453.2 248.6,453.7 249.1,454.7 249.6,453.7 250.1,454.5 250.6,454.5 251.1,454.5 251.6,454.8 252.1,453.3 252.6,453.5 253.1,453.9 253.6,454 254.1,454.9 254.6,454.7 255.1,454 255.6,454.2 256.1,453.8 256.6,454.2 257.1,453.7 257.6,455.5 258.1,455 258.6,454.4 259.1,454.5 259.6,454.9 260.1,454.5 260.6,455.1 261.1,454.4 261.6,455.6 262.1,454.7 262.6,453.8 263.1,453.9 263.6,454.2 264.1,455.4 264.6,454.4 265.1,455.1 265.6,453.8 266.1,455 266.6,454.2 267.1,454.7 267.6,455.1 268.1,454.4 268.6,456.5 269.1,454.6 269.6,455 270.1,456.1 270.6,455.6 271.1,453.7 271.6,455.2 272.1,455.6 272.6,454.4 273.1,455 273.6,454.6 274.1,454.6 274.6,455.9 275.1,455.6 275.6,454.6 276.1,454.4 276.6,455.5 277.1,455.2 277.6,454.9 278.1,455 278.7,454.1 279.2,454.2 279.7,454.1 280.2,455.1 280.7,454.4 281.2,453.8 281.7,454 282.2,455.1 282.7,454.9 283.2,454.6 283.7,454.8 284.2,455.5 284.7,455.1 285.2,455.3 285.7,455.1 286.2,454.1 286.7,455.7 287.2,455.2 287.7,455.7 288.2,456.8 288.7,454.9 289.2,455.4 289.7,454.9 290.2,454.8 290.7,454.8 291.2,455 291.7,455.2 292.2,456 292.7,455.2 293.2,454.6 293.7,455.3 294.2,454.2 294.7,455 295.2,454.8 295.7,454.5 296.2,455.1 296.7,455.6 297.2,455.4 297.7,454.1 298.2,454.2 298.7,455.1 299.2,454.9 299.7,454.3 300.2,455.4 300.7,455.2 301.2,455.5 301.7,454.9 302.2,455.6 302.7,454.2 303.2,454.3 303.7,455 304.2,454.9 304.7,454.1 305.2,454.6 305.7,455.6 306.2,455.5 306.7,455.1 307.2,455.4 307.7,455.5 308.2,455.5 308.7,455.9 309.2,455.9 309.7,455.1 310.2,456.7 310.7,455.6 311.2,455.3 311.7,456.2 312.2,455.2 312.7,454.6 313.2,454.5 313.7,455 314.2,455.1 314.7,454.7 315.2,455.6 315.7,455.5 316.2,456.8 316.7,456.5 317.2,455.9 317.7,457 318.2,456.3 318.7,455.3 319.2,456.2 319.7,457 320.2,456.1 320.7,455.7 321.2,456 321.7,455.6 322.2,456.3 322.7,456.2 323.2,456 323.7,456.7 324.2,457.3 324.7,456.7 325.2,457.2 325.7,456.9 326.2,456.2 326.7,456.2 327.2,456.8 327.7,456.1 328.2,456.4 328.7,455.1 329.2,456.5 329.7,455.3 330.2,457.4 330.7,456.6 331.2,456.8 331.7,456 332.2,456.2 332.7,455.5 333.2,455.5 333.7,456.1 334.2,455.9 334.7,456 335.2,456.1 335.7,457 336.2,456.8 336.7,457.3 337.2,456.2 337.7,456 338.2,456.5 338.7,456.8 339.2,455.8 339.7,457 340.2,456.6 340.7,457 341.2,456.9 341.7,456.5 342.2,456.2 342.7,456.4 343.2,457 343.7,455.5 344.2,456.5 344.7,456.3 345.2,456.3 345.7,456.6 346.2,456.7 346.7,456.5 347.2,457.4 347.7,456.6 348.2,458 348.7,455.9 349.2,457.8 349.7,456.7 350.2,456.1 350.7,456.1 351.2,456.1 351.7,456.3 352.2,456 352.7,456.8 353.2,456 353.7,456.1 354.2,456.2 354.7,456.8 355.2,456.7 355.7,457.6 356.2,456.5 356.7,456.7 357.2,456.7 357.7,456.5 358.2,456.7 358.7,456.5 359.2,455.8 359.7,456 360.2,456.3 360.7,455.6 361.2,456.5 361.7,457.3 362.2,457.1 362.7,456.1 363.2,456.2 363.7,456.7 364.2,456.7 364.7,457.6 365.2,457.4 365.7,457.6 366.2,457.3 366.7,457.9 367.2,457.5 367.7,458.7 368.2,457.7 368.7,457.3 369.2,457.1 369.7,456.9 370.2,456.6 370.7,457.2 371.2,457.4 371.7,458 372.2,457.3 372.7,457.7 373.2,457.4 373.7,457.2 374.2,457.6 374.7,457.7 375.2,457.2 375.7,457.2 376.2,457.3 376.7,456.3 377.2,457.6 377.7,456.7 378.2,458.7 378.7,457.5 379.3,457.7 379.8,457.8 380.3,456.7 380.8,458.4 381.3,457.2 381.8,458.1 382.3,458.2 382.8,458 383.3,455.9 383.8,456.8 384.3,457.1 384.8,456.6 385.3,457.3 385.8,458.2 386.3,458 386.8,457.2 387.3,456.9 387.8,458 388.3,458 388.8,457.5 389.3,457.2 389.8,458.6 390.3,458.7 390.8,458.6 391.3,458.4 391.8,457.8 392.3,458.3 392.8,457.6 393.3,459.1 393.8,457.7 394.3,457.9 394.8,458.2 395.3,458.3 395.8,459.1 396.3,458.8 396.8,458 397.3,458.6 397.8,458.5 398.3,459.1 398.8,457.4 399.3,458 399.8,457.7 400.3,458.3 400.8,458.7 401.3,458.1 401.8,459.3 402.3,457.6 402.8,458.2 403.3,457.7 403.8,457.2 404.3,457.7 404.8,458 405.3,457.6 405.8,457.5 406.3,457.8 406.8,457.4 407.3,458.1 407.8,458 408.3,457.6 408.8,458.2 409.3,456.5 409.8,457.3 410.3,458.6 410.8,457.6 411.3,458.6 411.8,458.4 412.3,458.4 412.8,458.2 413.3,457.6 413.8,457.3 414.3,457.1 414.8,458.1 415.3,457.7 415.8,457.8 416.3,457 416.8,457.6 417.3,458.3 417.8,457.4 418.3,457.7 418.8,457.8 419.3,459.2 419.8,458.8 420.3,459.3 420.8,459.7 421.3,458.2 421.8,458.4 422.3,457 422.8,458.1 423.3,457.7 423.8,457.9 424.3,457.9 424.8,456.7 425.3,458 425.8,457.7 426.3,457.4 426.8,457.9 427.3,458.8 427.8,458.2 428.3,459.4 428.8,459 429.3,458.7 429.8,458.2 430.3,458.1 430.8,459.1 431.3,458.4 431.8,458.4 432.3,458.4 432.8,458.7 433.3,458.6 433.8,458 434.3,458.4 434.8,458.1 435.3,458.6 435.8,457.6 436.3,458.2 436.8,459 437.3,457.8 437.8,458 438.3,458.5 438.8,457.8 439.3,458.5 439.8,458.6 440.3,458.9 440.8,458.7 441.3,458.8 441.8,458.5 442.3,458.8 442.8,458.8 443.3,458.8 443.8,458.8 444.3,458.8 444.8,458.8 445.3,458.6 445.8,458.6 446.3,458.3 446.8,459 447.3,459.2 447.8,458.4 448.3,458.9 448.8,458.5 449.3,458.5 449.8,458 450.3,458.4 450.8,458.8 451.3,458.7 451.8,458.9 452.3,458.1 452.8,457.3 453.3,458.7 453.8,458.3 454.3,458.7 454.8,459.2 455.3,458.9 455.8,457.3 456.3,458.2 456.8,458.3 457.3,459.3 457.8,458.2 458.3,458.5 458.8,459.3 459.3,458 459.8,458.6 460.3,458.2 460.8,458.4 461.3,459.1 461.8,458.8 462.3,458.7 462.8,458.7 463.3,458.5 463.8,458.6 464.3,459 464.8,458.4 465.3,459 465.8,458.9 466.3,459.7 466.8,460 467.3,459.8 467.8,460.1 468.3,459.4 468.8,459.5 469.3,459.8 469.8,459.5 470.3,459.8 470.8,459.4 471.3,458.7 471.8,458.7 472.3,459.2 472.8,460.1 473.3,458.9 473.8,458 474.3,458.8 474.8,458.3 475.3,458 475.8,459.9 476.3,459.9 476.8,458.8 477.3,458.9 477.8,458.9 478.3,459.6 478.8,459.7 479.3,460 479.9,459.1 480.4,459.6 480.9,460.2 481.4,460.1 481.9,459.4 482.4,460.2 482.9,460.8 483.4,459.3 483.9,461 484.4,460.1 484.9,460.8 485.4,460.4 485.9,459.9 486.4,459.5 486.9,459.3 487.4,459 487.9,459.4 488.4,459.5 488.9,458.7 489.4,459.2 489.9,458.4 490.4,458.8 490.9,459.2 491.4,459.7 491.9,459.4 492.4,459.4 492.9,459 493.4,458.7 493.9,459.7 494.4,459.7 494.9,459 495.4,459.5 495.9,459.8 496.4,459.3 496.9,459.4 497.4,460.1 497.9,460 498.4,460.5 498.9,460 499.4,460.5 499.9,460.4 500.4,460.9 500.9,459.6 501.4,459.8 501.9,459.2 502.4,459.9 502.9,460 503.4,460.5 503.9,459.8 504.4,460.4 504.9,460.3 505.4,461.1 505.9,460.4 506.4,460.2 506.9,460.7 507.4,460.3 507.9,460 508.4,459.5 508.9,460.6 509.4,461 509.9,460.6 510.4,461 510.9,460.4 511.4,460.9 511.9,460.9 512.4,460.3 512.9,459.8 513.4,460.3 513.9,460.3 514.4,460.5 514.9,459.3 515.4,460.7 515.9,460.3 516.4,459.9 516.9,459.6 517.4,459.9 517.9,460.5 518.4,460.7 518.9,460.8 519.4,460 519.9,460.6 520.4,460.7 520.9,460.6 521.4,460.2 521.9,460.5 522.4,460.8 522.9,459.6 523.4,460.7 523.9,459.7 524.4,459.7 524.9,459.7 525.4,460.6 525.9,460.6 526.4,460.9 526.9,460.1 527.4,460 527.9,461.4 528.4,460.7 528.9,459.4 529.4,460 529.9,460.5 530.4,461.1 530.9,461.3 531.4,460 531.9,460.7 532.4,460.4 532.9,460.4 533.4,460.4 533.9,460.2 534.4,460.4 534.9,460.8 535.4,461.2 535.9,460.4 536.4,461.6 536.9,460.7 537.4,461.2 537.9,460.3 538.4,460.1 538.9,461.1 539.4,460.8 539.9,459.8 540.4,460.9 540.9,460 541.4,461 541.9,461.2 542.4,460.9 542.9,460.9 543.4,461 543.9,461.1 544.4,460.7 544.9,461.2 545.4,460.6 545.9,460 546.4,460.8 546.9,461.3 547.4,461 547.9,460.5 548.4,460.3 548.9,460.5 549.4,461.4 549.9,461.2 550.4,460.6 550.9,461.1 551.4,461.6 551.9,461 552.4,461 552.9,460.7 553.4,460.2 553.9,461.4 554.4,461.3 554.9,461.4 555.4,461.7 555.9,461.2 556.4,461.2 556.9,461.6 557.4,460.9 557.9,460.5 558.4,461.2 558.9,461 559.4,460.9 559.9,461.2 560.4,461.4 560.9,460.8 561.4,460.2 561.9,460.3 562.4,460.6 562.9,460.8 563.4,460.8 563.9,461 564.4,461.7 564.9,460.4 565.4,461.4 565.9,461 566.4,461.4 566.9,461.2 567.4,461.9 567.9,461.8 568.4,462 568.9,462.1 569.4,460.6 569.9,461.1 570.4,461.5 570.9,461.6 571.4,461.5 571.9,461.1 572.4,462.4 572.9,461.3 573.4,462.2 573.9,461.8 574.4,462 574.9,462.5 575.4,461.9 575.9,462.6 576.4,462.3 576.9,461.8 577.4,462.1 577.9,462.2 578.4,462.3 578.9,462.4 579.4,461.3 579.9,461.5 580.4,461.4 581,461.1 581.5,462.5 582,461.5 582.5,461.5 583,461.5 583.5,461.4 584,462.2 584.5,461.9 585,461.6 585.5,461.7 586,461.9 586.5,461.7 587,461.8 587.5,461.9 588,461.1 588.5,460.9 589,461.2 589.5,461.6 590,461.5 590.5,462 591,461.5 591.5,462 592,462.2 592.5,461.8 593,462.4 593.5,462.8 594,460.9 594.5,461.7 595,461.8 595.5,462.1 596,461.4 596.5,461.8 597,462.4 597.5,462.1 598,461.9 598.5,462 599,462.5 599.5,462.7 600,462.7 600.5,462.6 601,461.7 601.5,462.1 602,462.2 602.5,462.3 603,462.5 603.5,462 604,462.6 604.5,463 605,462.8 605.5,462.9 606,462.5 606.5,462.3 607,462.9 607.5,462.8 608,463 608.5,462.5 609,462.2 609.5,462.1 610,462.6 610.5,461.8 611,463.1 611.5,462.4 612,462.6 612.5,462.5 613,463.2 613.5,462.1 614,462.9 614.5,462.7 615,462.9 615.5,462.7 616,462 616.5,461.6 617,461.4 617.5,462.1 618,462.4 618.5,462.3 619,462.1 619.5,462.5 620,461.8 620.5,462.9 621,463 621.5,462.9 622,462.7 622.5,463.1 623,461.9 623.5,462.1 624,462.6 624.5,462.6 625,462.5 625.5,462.9 626,462.5 626.5,463.2 627,462.5 627.5,461.5 628,462.2 628.5,462.1 629,461.9 629.5,462.9 630,462.3 630.5,462 631,462.5"/>
<polyline stroke="#00ffff" stroke-width="2.30" points="83.7,458.3 85.4,468.6 86.7,466 88,468.6 88.6,455 89.4,430.9 89.9,429 90.4,440 91.2,464.4 92.2,448 93.1,430.3 94,445 95,464.4 96.9,441.6 97.5,463.2 99.4,437.8 100.7,461.9 102.6,442.9 103.8,460.6 105.8,450.8 107.8,457.7 109.8,451 111.8,457.7 113.8,452.8 115.8,457.7 117.7,459"/>
</g>
<path d="M66.50 27.50H631.00M66.50 254.60H631.00M66.50 27.50V254.60M179.40 254.60V259.46M292.30 254.60V259.46M405.20 254.60V259.46M518.10 254.60V259.46M631.00 254.60V259.46M66.50 271.50H631.00M66.50 498.50H631.00M66.50 271.50V498.50M179.40 498.50V503.36M292.30 498.50V503.36M405.20 498.50V503.36M518.10 498.50V503.36M631.00 498.50V503.36M61.64 254.60H66.50M61.64 219.00H66.50M61.64 162.83H66.50M61.64 119.27H66.50M61.64 83.67H66.50M61.64 53.57H66.50M61.64 27.50H66.50M61.64 498.50H66.50M61.64 422.83H66.50M61.64 347.17H66.50M61.64 271.50H66.50" fill="none" stroke="#000" stroke-width="1.111" stroke-linecap="square"/>
<path d="M631.00 26.94V259.46M631.00 270.94V503.36" fill="none" stroke="#000" stroke-width="1.500"/>
<text x="55.78" y="261.40" text-anchor="end">2.5</text>
<text x="55.78" y="225.80" text-anchor="end">3</text>
<text x="55.78" y="169.63" text-anchor="end">4</text>
<text x="55.78" y="126.07" text-anchor="end">5</text>
<text x="55.78" y="90.47" text-anchor="end">6</text>
<text x="55.78" y="60.37" text-anchor="end">7</text>
<text x="55.78" y="34.30" text-anchor="end">8</text>
<text x="55.78" y="505.30" text-anchor="end">0.0</text>
<text x="55.78" y="429.63" text-anchor="end">0.005</text>
<text x="55.78" y="353.97" text-anchor="end">0.01</text>
<text x="55.78" y="278.30" text-anchor="end">0.015</text>
<text x="179.30" y="521.13" text-anchor="middle">1B</text>
<text x="292.20" y="521.13" text-anchor="middle">2B</text>
<text x="405.10" y="521.13" text-anchor="middle">3B</text>
<text x="518.00" y="521.13" text-anchor="middle">4B</text>
<text x="630.90" y="521.13" text-anchor="middle">5B</text>
<text x="348.35" y="541.97" text-anchor="middle">Tokens</text>
<path d="M456.11 35.40H620.04Q623.10 35.40 623.10 38.46V81.54Q623.10 84.60 620.04 84.60H456.11Q453.05 84.60 453.05 81.54V38.46Q453.05 35.40 456.11 35.40Z" fill="#fff" fill-opacity="0.8" stroke="#cccccc" stroke-width="1.389"/>
<path d="M459.42 47.60H489.98" stroke="#ff0000" stroke-width="2.083" stroke-linecap="square"/>
<path d="M459.42 70.50H489.98" stroke="#0000ff" stroke-width="2.083" stroke-linecap="square"/>
<text x="502.20" y="52.95" text-anchor="start">Proposed: Loss</text>
<text x="502.20" y="75.85" text-anchor="start">Baseline: Loss</text>
<path d="M397.36 279.50H620.14Q623.20 279.50 623.20 282.56V378.84Q623.20 381.90 620.14 381.90H397.36Q394.30 381.90 394.30 378.84V282.56Q394.30 279.50 397.36 279.50Z" fill="#fff" fill-opacity="0.8" stroke="#cccccc" stroke-width="1.389"/>
<path d="M400.32 292.30H430.88" stroke="#ff0000" stroke-width="2.083" stroke-linecap="square"/>
<path d="M400.32 317.10H430.88" stroke="#0000ff" stroke-width="2.083" stroke-linecap="square"/>
<path d="M400.32 341.50H430.88" stroke="#ff00ff" stroke-width="2.083" stroke-linecap="square"/>
<path d="M400.32 366.30H430.88" stroke="#00ffff" stroke-width="2.083" stroke-linecap="square"/>
<text x="443.88" y="296.82">Proposed:&#160;<tspan x="524.83" class="n">‖</tspan><tspan x="532.47">Δ</tspan><tspan x="542.92" class="o">W</tspan><tspan x="558.02" y="299.33" class="o s">d</tspan><tspan x="565.23" y="296.82" class="n">‖</tspan><tspan x="572.87">/</tspan><tspan x="578.02" class="n">‖</tspan><tspan x="585.65" class="o">W</tspan><tspan x="600.76" y="299.33" class="o s">d</tspan><tspan x="607.97" y="296.82" class="n">‖</tspan></text>
<text x="443.88" y="321.62">Baseline:&#160;<tspan x="518.66" class="n">‖</tspan><tspan x="526.30">Δ</tspan><tspan x="536.75" class="o">W</tspan><tspan x="551.85" y="324.13" class="o s">d</tspan><tspan x="559.06" y="321.62" class="n">‖</tspan><tspan x="566.70">/</tspan><tspan x="571.85" class="n">‖</tspan><tspan x="579.49" class="o">W</tspan><tspan x="594.59" y="324.13" class="o s">d</tspan><tspan x="601.80" y="321.62" class="n">‖</tspan></text>
<text x="443.88" y="346.02">Proposed:&#160;<tspan x="524.83" class="n">‖</tspan><tspan x="532.47">Δ</tspan><tspan x="542.92" class="o">W</tspan><tspan x="558.02" y="348.53" class="o s">u</tspan><tspan x="565.22" y="346.02" class="n">‖</tspan><tspan x="572.86">/</tspan><tspan x="578.01" class="n">‖</tspan><tspan x="585.64" class="o">W</tspan><tspan x="600.75" y="348.53" class="o s">u</tspan><tspan x="607.96" y="346.02" class="n">‖</tspan></text>
<text x="443.88" y="370.82">Baseline:&#160;<tspan x="518.66" class="n">‖</tspan><tspan x="526.30">Δ</tspan><tspan x="536.75" class="o">W</tspan><tspan x="551.85" y="373.33" class="o s">u</tspan><tspan x="559.05" y="370.82" class="n">‖</tspan><tspan x="566.69">/</tspan><tspan x="571.84" class="n">‖</tspan><tspan x="579.47" class="o">W</tspan><tspan x="594.58" y="373.33" class="o s">u</tspan><tspan x="601.79" y="370.82" class="n">‖</tspan></text>
</g>
</svg>
</body></html>
